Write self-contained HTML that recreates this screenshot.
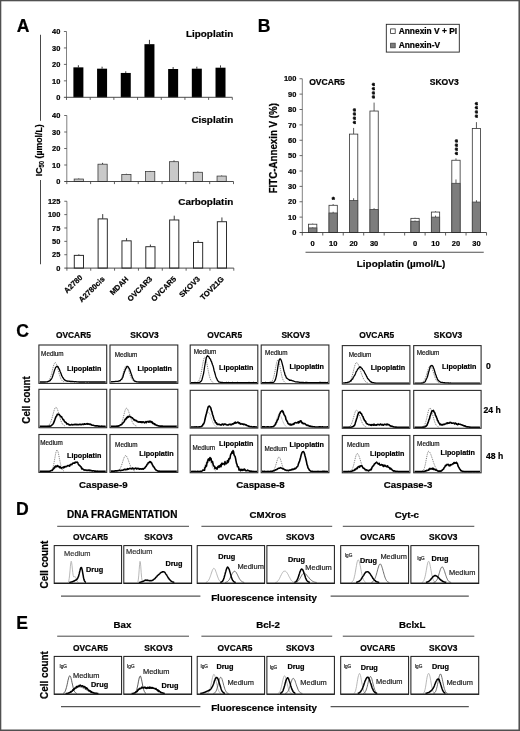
<!DOCTYPE html>
<html lang="en"><head><meta charset="utf-8"><title>Figure</title>
<style>
html,body{margin:0;padding:0;background:#fff;}
body{width:520px;height:731px;overflow:hidden;position:relative;}
svg{display:block;position:absolute;left:0;top:0;font-family:"Liberation Sans", sans-serif;}
text.b{stroke:#000;stroke-width:0.22px;}
text.r{stroke:#222;stroke-width:0.2px;}
</style></head><body>
<svg width="520" height="731" viewBox="0 0 520 731">
<defs><filter id="soft" x="0" y="0" width="520" height="731" filterUnits="userSpaceOnUse"><feGaussianBlur stdDeviation="0.32"/></filter></defs>
<rect x="0" y="0" width="520" height="731" fill="#fff"/>
<g filter="url(#soft)">
<text x="16.70" y="31.80" font-size="17.6" font-weight="bold" text-anchor="start" fill="#000" class="b">A</text>
<text x="257.70" y="32.10" font-size="17.6" font-weight="bold" text-anchor="start" fill="#000" class="b">B</text>
<text x="16.20" y="336.50" font-size="17.6" font-weight="bold" text-anchor="start" fill="#000" class="b">C</text>
<text x="15.90" y="514.70" font-size="17.6" font-weight="bold" text-anchor="start" fill="#000" class="b">D</text>
<text x="16.30" y="629.00" font-size="17.6" font-weight="bold" text-anchor="start" fill="#000" class="b">E</text>
<line x1="78.39" y1="67.36" x2="78.39" y2="65.22" stroke="#222" stroke-width="0.9"/>
<rect x="73.39" y="67.36" width="10" height="29.94" fill="#000"/>
<line x1="102.08" y1="68.68" x2="102.08" y2="66.70" stroke="#222" stroke-width="0.9"/>
<rect x="97.08" y="68.68" width="10" height="28.62" fill="#000"/>
<line x1="125.76" y1="72.95" x2="125.76" y2="71.31" stroke="#222" stroke-width="0.9"/>
<rect x="120.76" y="72.95" width="10" height="24.35" fill="#000"/>
<line x1="149.45" y1="44.17" x2="149.45" y2="39.89" stroke="#222" stroke-width="0.9"/>
<rect x="144.45" y="44.17" width="10" height="53.13" fill="#000"/>
<line x1="173.14" y1="69.01" x2="173.14" y2="67.03" stroke="#222" stroke-width="0.9"/>
<rect x="168.14" y="69.01" width="10" height="28.29" fill="#000"/>
<line x1="196.82" y1="68.68" x2="196.82" y2="66.70" stroke="#222" stroke-width="0.9"/>
<rect x="191.82" y="68.68" width="10" height="28.62" fill="#000"/>
<line x1="220.51" y1="67.69" x2="220.51" y2="65.39" stroke="#222" stroke-width="0.9"/>
<rect x="215.51" y="67.69" width="10" height="29.61" fill="#000"/>
<line x1="66.50" y1="31.50" x2="66.50" y2="97.30" stroke="#555" stroke-width="0.75"/>
<line x1="63.90" y1="97.30" x2="232.30" y2="97.30" stroke="#2a2a2a" stroke-width="0.85"/>
<text x="60.40" y="100.00" font-size="7.45" font-weight="bold" text-anchor="end" fill="#000" class="b">0</text>
<line x1="63.90" y1="80.85" x2="66.50" y2="80.85" stroke="#444" stroke-width="0.8"/>
<text x="60.40" y="83.55" font-size="7.45" font-weight="bold" text-anchor="end" fill="#000" class="b">10</text>
<line x1="63.90" y1="64.40" x2="66.50" y2="64.40" stroke="#444" stroke-width="0.8"/>
<text x="60.40" y="67.10" font-size="7.45" font-weight="bold" text-anchor="end" fill="#000" class="b">20</text>
<line x1="63.90" y1="47.95" x2="66.50" y2="47.95" stroke="#444" stroke-width="0.8"/>
<text x="60.40" y="50.65" font-size="7.45" font-weight="bold" text-anchor="end" fill="#000" class="b">30</text>
<line x1="63.90" y1="31.50" x2="66.50" y2="31.50" stroke="#444" stroke-width="0.8"/>
<text x="60.40" y="34.20" font-size="7.45" font-weight="bold" text-anchor="end" fill="#000" class="b">40</text>
<line x1="66.50" y1="97.30" x2="66.50" y2="99.90" stroke="#444" stroke-width="0.85"/>
<line x1="90.19" y1="97.30" x2="90.19" y2="99.90" stroke="#444" stroke-width="0.85"/>
<line x1="113.87" y1="97.30" x2="113.87" y2="99.90" stroke="#444" stroke-width="0.85"/>
<line x1="137.56" y1="97.30" x2="137.56" y2="99.90" stroke="#444" stroke-width="0.85"/>
<line x1="161.24" y1="97.30" x2="161.24" y2="99.90" stroke="#444" stroke-width="0.85"/>
<line x1="184.93" y1="97.30" x2="184.93" y2="99.90" stroke="#444" stroke-width="0.85"/>
<line x1="208.61" y1="97.30" x2="208.61" y2="99.90" stroke="#444" stroke-width="0.85"/>
<line x1="232.30" y1="97.30" x2="232.30" y2="99.90" stroke="#444" stroke-width="0.85"/>
<text x="233.20" y="37.40" font-size="9.9" font-weight="bold" text-anchor="end" fill="#000" class="b">Lipoplatin</text>
<line x1="78.76" y1="179.03" x2="78.76" y2="178.53" stroke="#222" stroke-width="0.9"/>
<rect x="74.16" y="179.03" width="9.2" height="2.47" fill="#c9c9c9" stroke="#333" stroke-width="0.75"/>
<line x1="102.57" y1="164.18" x2="102.57" y2="162.86" stroke="#222" stroke-width="0.9"/>
<rect x="97.97" y="164.18" width="9.2" height="17.32" fill="#c9c9c9" stroke="#333" stroke-width="0.75"/>
<line x1="126.39" y1="174.41" x2="126.39" y2="173.75" stroke="#222" stroke-width="0.9"/>
<rect x="121.79" y="174.41" width="9.2" height="7.09" fill="#c9c9c9" stroke="#333" stroke-width="0.75"/>
<line x1="150.20" y1="171.60" x2="150.20" y2="170.94" stroke="#222" stroke-width="0.9"/>
<rect x="145.60" y="171.60" width="9.2" height="9.90" fill="#c9c9c9" stroke="#333" stroke-width="0.75"/>
<line x1="174.01" y1="161.70" x2="174.01" y2="160.38" stroke="#222" stroke-width="0.9"/>
<rect x="169.41" y="161.70" width="9.2" height="19.80" fill="#c9c9c9" stroke="#333" stroke-width="0.75"/>
<line x1="197.83" y1="172.26" x2="197.83" y2="171.60" stroke="#222" stroke-width="0.9"/>
<rect x="193.23" y="172.26" width="9.2" height="9.24" fill="#c9c9c9" stroke="#333" stroke-width="0.75"/>
<line x1="221.64" y1="176.06" x2="221.64" y2="175.56" stroke="#222" stroke-width="0.9"/>
<rect x="217.04" y="176.06" width="9.2" height="5.44" fill="#c9c9c9" stroke="#333" stroke-width="0.75"/>
<line x1="66.80" y1="115.50" x2="66.80" y2="181.50" stroke="#555" stroke-width="0.75"/>
<line x1="64.20" y1="181.50" x2="233.50" y2="181.50" stroke="#2a2a2a" stroke-width="0.85"/>
<text x="60.40" y="184.20" font-size="7.45" font-weight="bold" text-anchor="end" fill="#000" class="b">0</text>
<line x1="64.20" y1="165.00" x2="66.80" y2="165.00" stroke="#444" stroke-width="0.8"/>
<text x="60.40" y="167.70" font-size="7.45" font-weight="bold" text-anchor="end" fill="#000" class="b">10</text>
<line x1="64.20" y1="148.50" x2="66.80" y2="148.50" stroke="#444" stroke-width="0.8"/>
<text x="60.40" y="151.20" font-size="7.45" font-weight="bold" text-anchor="end" fill="#000" class="b">20</text>
<line x1="64.20" y1="132.00" x2="66.80" y2="132.00" stroke="#444" stroke-width="0.8"/>
<text x="60.40" y="134.70" font-size="7.45" font-weight="bold" text-anchor="end" fill="#000" class="b">30</text>
<line x1="64.20" y1="115.50" x2="66.80" y2="115.50" stroke="#444" stroke-width="0.8"/>
<text x="60.40" y="118.20" font-size="7.45" font-weight="bold" text-anchor="end" fill="#000" class="b">40</text>
<line x1="66.80" y1="181.50" x2="66.80" y2="184.10" stroke="#444" stroke-width="0.85"/>
<line x1="90.61" y1="181.50" x2="90.61" y2="184.10" stroke="#444" stroke-width="0.85"/>
<line x1="114.43" y1="181.50" x2="114.43" y2="184.10" stroke="#444" stroke-width="0.85"/>
<line x1="138.24" y1="181.50" x2="138.24" y2="184.10" stroke="#444" stroke-width="0.85"/>
<line x1="162.06" y1="181.50" x2="162.06" y2="184.10" stroke="#444" stroke-width="0.85"/>
<line x1="185.87" y1="181.50" x2="185.87" y2="184.10" stroke="#444" stroke-width="0.85"/>
<line x1="209.69" y1="181.50" x2="209.69" y2="184.10" stroke="#444" stroke-width="0.85"/>
<line x1="233.50" y1="181.50" x2="233.50" y2="184.10" stroke="#444" stroke-width="0.85"/>
<text x="233.20" y="123.30" font-size="9.9" font-weight="bold" text-anchor="end" fill="#000" class="b">Cisplatin</text>
<line x1="78.87" y1="255.37" x2="78.87" y2="254.30" stroke="#222" stroke-width="0.9"/>
<rect x="74.27" y="255.37" width="9.2" height="12.73" fill="#fff" stroke="#222" stroke-width="0.95"/>
<line x1="102.71" y1="218.90" x2="102.71" y2="214.09" stroke="#222" stroke-width="0.9"/>
<rect x="98.11" y="218.90" width="9.2" height="49.20" fill="#fff" stroke="#222" stroke-width="0.95"/>
<line x1="126.56" y1="240.83" x2="126.56" y2="238.15" stroke="#222" stroke-width="0.9"/>
<rect x="121.96" y="240.83" width="9.2" height="27.27" fill="#fff" stroke="#222" stroke-width="0.95"/>
<line x1="150.40" y1="246.71" x2="150.40" y2="244.57" stroke="#222" stroke-width="0.9"/>
<rect x="145.80" y="246.71" width="9.2" height="21.39" fill="#fff" stroke="#222" stroke-width="0.95"/>
<line x1="174.24" y1="219.97" x2="174.24" y2="215.69" stroke="#222" stroke-width="0.9"/>
<rect x="169.64" y="219.97" width="9.2" height="48.13" fill="#fff" stroke="#222" stroke-width="0.95"/>
<line x1="198.09" y1="242.43" x2="198.09" y2="240.29" stroke="#222" stroke-width="0.9"/>
<rect x="193.49" y="242.43" width="9.2" height="25.67" fill="#fff" stroke="#222" stroke-width="0.95"/>
<line x1="221.93" y1="221.73" x2="221.93" y2="217.45" stroke="#222" stroke-width="0.9"/>
<rect x="217.33" y="221.73" width="9.2" height="46.37" fill="#fff" stroke="#222" stroke-width="0.95"/>
<line x1="66.90" y1="201.25" x2="66.90" y2="268.10" stroke="#555" stroke-width="0.75"/>
<line x1="64.30" y1="268.10" x2="233.80" y2="268.10" stroke="#2a2a2a" stroke-width="0.85"/>
<text x="60.40" y="270.80" font-size="7.45" font-weight="bold" text-anchor="end" fill="#000" class="b">0</text>
<line x1="64.30" y1="254.73" x2="66.90" y2="254.73" stroke="#444" stroke-width="0.8"/>
<text x="60.40" y="257.43" font-size="7.45" font-weight="bold" text-anchor="end" fill="#000" class="b">25</text>
<line x1="64.30" y1="241.36" x2="66.90" y2="241.36" stroke="#444" stroke-width="0.8"/>
<text x="60.40" y="244.06" font-size="7.45" font-weight="bold" text-anchor="end" fill="#000" class="b">50</text>
<line x1="64.30" y1="227.99" x2="66.90" y2="227.99" stroke="#444" stroke-width="0.8"/>
<text x="60.40" y="230.69" font-size="7.45" font-weight="bold" text-anchor="end" fill="#000" class="b">75</text>
<line x1="64.30" y1="214.62" x2="66.90" y2="214.62" stroke="#444" stroke-width="0.8"/>
<text x="60.40" y="217.32" font-size="7.45" font-weight="bold" text-anchor="end" fill="#000" class="b">100</text>
<line x1="64.30" y1="201.25" x2="66.90" y2="201.25" stroke="#444" stroke-width="0.8"/>
<text x="60.40" y="203.95" font-size="7.45" font-weight="bold" text-anchor="end" fill="#000" class="b">125</text>
<line x1="66.90" y1="268.10" x2="66.90" y2="270.70" stroke="#444" stroke-width="0.85"/>
<line x1="90.74" y1="268.10" x2="90.74" y2="270.70" stroke="#444" stroke-width="0.85"/>
<line x1="114.59" y1="268.10" x2="114.59" y2="270.70" stroke="#444" stroke-width="0.85"/>
<line x1="138.43" y1="268.10" x2="138.43" y2="270.70" stroke="#444" stroke-width="0.85"/>
<line x1="162.27" y1="268.10" x2="162.27" y2="270.70" stroke="#444" stroke-width="0.85"/>
<line x1="186.11" y1="268.10" x2="186.11" y2="270.70" stroke="#444" stroke-width="0.85"/>
<line x1="209.96" y1="268.10" x2="209.96" y2="270.70" stroke="#444" stroke-width="0.85"/>
<line x1="233.80" y1="268.10" x2="233.80" y2="270.70" stroke="#444" stroke-width="0.85"/>
<text x="233.20" y="205.00" font-size="9.9" font-weight="bold" text-anchor="end" fill="#000" class="b">Carboplatin</text>
<text transform="translate(82.92,277.90) rotate(-45)" class="b" font-size="7.6" font-weight="bold" text-anchor="end">A2780</text>
<text transform="translate(105.16,279.50) rotate(-45)" class="b" font-size="7.6" font-weight="bold" text-anchor="end">A2780cis</text>
<text transform="translate(129.00,279.50) rotate(-45)" class="b" font-size="7.6" font-weight="bold" text-anchor="end">MDAH</text>
<text transform="translate(152.84,279.50) rotate(-45)" class="b" font-size="7.6" font-weight="bold" text-anchor="end">OVCAR3</text>
<text transform="translate(176.68,279.50) rotate(-45)" class="b" font-size="7.6" font-weight="bold" text-anchor="end">OVCAR5</text>
<text transform="translate(200.52,279.50) rotate(-45)" class="b" font-size="7.6" font-weight="bold" text-anchor="end">SKOV3</text>
<text transform="translate(224.36,279.50) rotate(-45)" class="b" font-size="7.6" font-weight="bold" text-anchor="end">TOV21G</text>
<line x1="40.50" y1="34.75" x2="40.50" y2="120.80" stroke="#333" stroke-width="0.9"/>
<line x1="40.50" y1="180.00" x2="40.50" y2="264.25" stroke="#333" stroke-width="0.9"/>
<text transform="translate(42.1,150.3) rotate(-90) scale(1,1.06)" class="b" font-size="8.75" font-weight="bold" text-anchor="middle">IC<tspan font-size="6" dy="1.6">50</tspan><tspan dy="-1.6"> (µmol/L)</tspan></text>
<line x1="312.69" y1="224.20" x2="312.69" y2="223.58" stroke="#333" stroke-width="0.8"/>
<rect x="308.54" y="224.20" width="8.30" height="8.30" fill="#fff" stroke="#333" stroke-width="0.8"/>
<rect x="308.54" y="227.89" width="8.30" height="4.61" fill="#7d7d7d" stroke="#444" stroke-width="0.8"/>
<line x1="312.69" y1="227.89" x2="312.69" y2="227.27" stroke="#333" stroke-width="0.8"/>
<line x1="333.15" y1="205.29" x2="333.15" y2="204.06" stroke="#333" stroke-width="0.8"/>
<rect x="329.00" y="205.29" width="8.30" height="27.21" fill="#fff" stroke="#333" stroke-width="0.8"/>
<rect x="329.00" y="212.97" width="8.30" height="19.53" fill="#7d7d7d" stroke="#444" stroke-width="0.8"/>
<line x1="333.15" y1="212.97" x2="333.15" y2="211.74" stroke="#333" stroke-width="0.8"/>
<line x1="353.62" y1="134.10" x2="353.62" y2="127.95" stroke="#333" stroke-width="0.8"/>
<rect x="349.48" y="134.10" width="8.30" height="98.40" fill="#fff" stroke="#333" stroke-width="0.8"/>
<rect x="349.48" y="200.52" width="8.30" height="31.98" fill="#7d7d7d" stroke="#444" stroke-width="0.8"/>
<line x1="353.62" y1="200.52" x2="353.62" y2="198.21" stroke="#333" stroke-width="0.8"/>
<line x1="374.09" y1="111.04" x2="374.09" y2="102.58" stroke="#333" stroke-width="0.8"/>
<rect x="369.94" y="111.04" width="8.30" height="121.46" fill="#fff" stroke="#333" stroke-width="0.8"/>
<rect x="369.94" y="209.44" width="8.30" height="23.06" fill="#7d7d7d" stroke="#444" stroke-width="0.8"/>
<line x1="374.09" y1="209.44" x2="374.09" y2="208.21" stroke="#333" stroke-width="0.8"/>
<line x1="415.03" y1="218.35" x2="415.03" y2="217.74" stroke="#333" stroke-width="0.8"/>
<rect x="410.88" y="218.35" width="8.30" height="14.15" fill="#fff" stroke="#333" stroke-width="0.8"/>
<rect x="410.88" y="221.28" width="8.30" height="11.22" fill="#7d7d7d" stroke="#444" stroke-width="0.8"/>
<line x1="415.03" y1="221.28" x2="415.03" y2="220.51" stroke="#333" stroke-width="0.8"/>
<line x1="435.50" y1="212.05" x2="435.50" y2="211.28" stroke="#333" stroke-width="0.8"/>
<rect x="431.36" y="212.05" width="8.30" height="20.45" fill="#fff" stroke="#333" stroke-width="0.8"/>
<rect x="431.36" y="217.12" width="8.30" height="15.38" fill="#7d7d7d" stroke="#444" stroke-width="0.8"/>
<line x1="435.50" y1="217.12" x2="435.50" y2="215.59" stroke="#333" stroke-width="0.8"/>
<line x1="455.97" y1="160.24" x2="455.97" y2="158.39" stroke="#333" stroke-width="0.8"/>
<rect x="451.82" y="160.24" width="8.30" height="72.26" fill="#fff" stroke="#333" stroke-width="0.8"/>
<rect x="451.82" y="183.30" width="8.30" height="49.20" fill="#7d7d7d" stroke="#444" stroke-width="0.8"/>
<line x1="455.97" y1="183.30" x2="455.97" y2="179.46" stroke="#333" stroke-width="0.8"/>
<line x1="476.44" y1="128.56" x2="476.44" y2="122.11" stroke="#333" stroke-width="0.8"/>
<rect x="472.30" y="128.56" width="8.30" height="103.94" fill="#fff" stroke="#333" stroke-width="0.8"/>
<rect x="472.30" y="202.06" width="8.30" height="30.44" fill="#7d7d7d" stroke="#444" stroke-width="0.8"/>
<line x1="476.44" y1="202.06" x2="476.44" y2="200.21" stroke="#333" stroke-width="0.8"/>
<line x1="302.30" y1="78.75" x2="302.30" y2="232.50" stroke="#555" stroke-width="0.75"/>
<line x1="299.50" y1="232.50" x2="486.50" y2="232.50" stroke="#2a2a2a" stroke-width="0.85"/>
<text x="296.30" y="235.20" font-size="7.45" font-weight="bold" text-anchor="end" fill="#000" class="b">0</text>
<line x1="299.50" y1="217.12" x2="302.30" y2="217.12" stroke="#444" stroke-width="0.8"/>
<text x="296.30" y="219.82" font-size="7.45" font-weight="bold" text-anchor="end" fill="#000" class="b">10</text>
<line x1="299.50" y1="201.75" x2="302.30" y2="201.75" stroke="#444" stroke-width="0.8"/>
<text x="296.30" y="204.45" font-size="7.45" font-weight="bold" text-anchor="end" fill="#000" class="b">20</text>
<line x1="299.50" y1="186.38" x2="302.30" y2="186.38" stroke="#444" stroke-width="0.8"/>
<text x="296.30" y="189.07" font-size="7.45" font-weight="bold" text-anchor="end" fill="#000" class="b">30</text>
<line x1="299.50" y1="171.00" x2="302.30" y2="171.00" stroke="#444" stroke-width="0.8"/>
<text x="296.30" y="173.70" font-size="7.45" font-weight="bold" text-anchor="end" fill="#000" class="b">40</text>
<line x1="299.50" y1="155.62" x2="302.30" y2="155.62" stroke="#444" stroke-width="0.8"/>
<text x="296.30" y="158.32" font-size="7.45" font-weight="bold" text-anchor="end" fill="#000" class="b">50</text>
<line x1="299.50" y1="140.25" x2="302.30" y2="140.25" stroke="#444" stroke-width="0.8"/>
<text x="296.30" y="142.95" font-size="7.45" font-weight="bold" text-anchor="end" fill="#000" class="b">60</text>
<line x1="299.50" y1="124.88" x2="302.30" y2="124.88" stroke="#444" stroke-width="0.8"/>
<text x="296.30" y="127.58" font-size="7.45" font-weight="bold" text-anchor="end" fill="#000" class="b">70</text>
<line x1="299.50" y1="109.50" x2="302.30" y2="109.50" stroke="#444" stroke-width="0.8"/>
<text x="296.30" y="112.20" font-size="7.45" font-weight="bold" text-anchor="end" fill="#000" class="b">80</text>
<line x1="299.50" y1="94.12" x2="302.30" y2="94.12" stroke="#444" stroke-width="0.8"/>
<text x="296.30" y="96.83" font-size="7.45" font-weight="bold" text-anchor="end" fill="#000" class="b">90</text>
<line x1="299.50" y1="78.75" x2="302.30" y2="78.75" stroke="#444" stroke-width="0.8"/>
<text x="296.30" y="81.45" font-size="7.45" font-weight="bold" text-anchor="end" fill="#000" class="b">100</text>
<line x1="302.30" y1="232.50" x2="302.30" y2="235.50" stroke="#444" stroke-width="0.85"/>
<line x1="322.77" y1="232.50" x2="322.77" y2="235.50" stroke="#444" stroke-width="0.85"/>
<line x1="343.24" y1="232.50" x2="343.24" y2="235.50" stroke="#444" stroke-width="0.85"/>
<line x1="363.71" y1="232.50" x2="363.71" y2="235.50" stroke="#444" stroke-width="0.85"/>
<line x1="384.18" y1="232.50" x2="384.18" y2="235.50" stroke="#444" stroke-width="0.85"/>
<line x1="404.65" y1="232.50" x2="404.65" y2="235.50" stroke="#444" stroke-width="0.85"/>
<line x1="425.12" y1="232.50" x2="425.12" y2="235.50" stroke="#444" stroke-width="0.85"/>
<line x1="445.59" y1="232.50" x2="445.59" y2="235.50" stroke="#444" stroke-width="0.85"/>
<line x1="466.06" y1="232.50" x2="466.06" y2="235.50" stroke="#444" stroke-width="0.85"/>
<line x1="486.53" y1="232.50" x2="486.53" y2="235.50" stroke="#444" stroke-width="0.85"/>
<text x="312.69" y="246.40" font-size="7.5" font-weight="bold" text-anchor="middle" fill="#000" class="b">0</text>
<text x="333.15" y="246.40" font-size="7.5" font-weight="bold" text-anchor="middle" fill="#000" class="b">10</text>
<text x="353.62" y="246.40" font-size="7.5" font-weight="bold" text-anchor="middle" fill="#000" class="b">20</text>
<text x="374.09" y="246.40" font-size="7.5" font-weight="bold" text-anchor="middle" fill="#000" class="b">30</text>
<text x="415.03" y="245.50" font-size="7.5" font-weight="bold" text-anchor="middle" fill="#000" class="b">0</text>
<text x="435.50" y="246.40" font-size="7.5" font-weight="bold" text-anchor="middle" fill="#000" class="b">10</text>
<text x="455.97" y="246.40" font-size="7.5" font-weight="bold" text-anchor="middle" fill="#000" class="b">20</text>
<text x="476.44" y="246.40" font-size="7.5" font-weight="bold" text-anchor="middle" fill="#000" class="b">30</text>
<line x1="305.50" y1="252.20" x2="483.75" y2="252.20" stroke="#505050" stroke-width="1.1"/>
<text x="401.10" y="266.60" font-size="9.9" font-weight="bold" text-anchor="middle" fill="#000" class="b">Lipoplatin (µmol/L)</text>
<text transform="translate(276.8,148.2) rotate(-90) scale(1,1.06)" class="b" font-size="9.75" font-weight="bold" text-anchor="middle">FITC-Annexin V (%)</text>
<text x="309.20" y="84.60" font-size="8.55" font-weight="bold" text-anchor="start" fill="#000" class="b">OVCAR5</text>
<text x="429.70" y="84.60" font-size="8.55" font-weight="bold" text-anchor="start" fill="#000" class="b">SKOV3</text>
<text x="333.30" y="201.90" font-size="8" font-weight="bold" text-anchor="middle" fill="#000" class="b" stroke-width="0.5" style="stroke-width:0.5px">*</text>
<text transform="translate(358.20,115.60) rotate(-90)" font-size="8" font-weight="bold" letter-spacing="1.05" text-anchor="middle" stroke="#000" stroke-width="0.5">****</text>
<text transform="translate(377.30,90.25) rotate(-90)" font-size="8" font-weight="bold" letter-spacing="1.05" text-anchor="middle" stroke="#000" stroke-width="0.5">****</text>
<text transform="translate(459.50,146.70) rotate(-90)" font-size="8" font-weight="bold" letter-spacing="1.05" text-anchor="middle" stroke="#000" stroke-width="0.5">****</text>
<text transform="translate(480.20,109.30) rotate(-90)" font-size="8" font-weight="bold" letter-spacing="1.05" text-anchor="middle" stroke="#000" stroke-width="0.5">****</text>
<rect x="386.30" y="24.30" width="73.00" height="27.80" fill="#fff" stroke="#222" stroke-width="0.9"/>
<rect x="390.60" y="28.90" width="4.60" height="4.60" fill="#fff" stroke="#333" stroke-width="0.8"/>
<rect x="390.60" y="43.20" width="4.60" height="4.60" fill="#7d7d7d" stroke="#444" stroke-width="0.8"/>
<text x="398.70" y="33.80" font-size="8.4" font-weight="bold" text-anchor="start" fill="#000" class="b">Annexin V + PI</text>
<text x="398.70" y="48.00" font-size="8.4" font-weight="bold" text-anchor="start" fill="#000" class="b">Annexin-V</text>
<text x="73.40" y="337.50" font-size="8.4" font-weight="bold" text-anchor="middle" fill="#000" class="b">OVCAR5</text>
<text x="144.50" y="337.50" font-size="8.4" font-weight="bold" text-anchor="middle" fill="#000" class="b">SKOV3</text>
<text x="224.60" y="337.50" font-size="8.4" font-weight="bold" text-anchor="middle" fill="#000" class="b">OVCAR5</text>
<text x="295.65" y="337.50" font-size="8.4" font-weight="bold" text-anchor="middle" fill="#000" class="b">SKOV3</text>
<text x="376.70" y="337.50" font-size="8.4" font-weight="bold" text-anchor="middle" fill="#000" class="b">OVCAR5</text>
<text x="448.00" y="337.50" font-size="8.4" font-weight="bold" text-anchor="middle" fill="#000" class="b">SKOV3</text>
<g>
<polyline points="47.4,381.6 47.9,381.4 48.4,381.0 48.9,380.5 49.4,379.7 49.9,378.8 50.4,377.5 50.9,376.0 51.4,374.3 51.9,372.3 52.4,370.2 52.9,368.2 53.4,366.2 53.9,364.6 54.4,363.4 54.9,362.7 55.4,362.6 55.9,363.1 56.4,364.1 56.9,365.5 57.4,367.2 57.9,369.1 58.4,371.0 58.9,372.9 59.4,374.7 59.9,376.3 60.4,377.7 60.9,378.8 61.4,379.7 61.9,380.4 62.4,380.9 62.9,381.3 63.4,381.5 63.9,381.7" fill="none" stroke="#444" stroke-width="0.7" stroke-linejoin="round" stroke-dasharray="1 0.9"/>
<polyline points="39.7,382.0 40.2,382.0 40.7,381.9 41.2,382.0 41.7,382.0 42.2,382.0 42.7,382.0 43.2,381.9 43.7,382.0 44.2,381.9 44.7,382.0 45.2,382.0 45.7,381.9 46.2,381.8 46.7,381.9 47.2,381.8 47.7,381.6 48.2,381.4 48.7,381.4 49.2,381.2 49.7,380.6 50.2,380.7 50.7,379.6 51.2,379.3 51.7,378.5 52.2,377.4 52.7,376.0 53.2,374.1 53.7,373.2 54.2,371.2 54.7,369.7 55.2,368.6 55.7,367.3 56.2,366.9 56.7,366.5 57.2,366.4 57.7,366.3 58.2,367.1 58.7,368.1 59.2,369.0 59.7,370.3 60.2,371.8 60.7,372.7 61.2,374.0 61.7,375.7 62.2,376.5 62.7,377.5 63.2,378.0 63.7,378.8 64.2,379.7 64.7,379.6 65.2,380.6 65.7,380.6 66.2,380.6 66.7,381.1 67.2,381.0 67.7,381.3 68.2,381.1 68.7,381.2 69.2,381.3 69.7,381.2 70.2,381.5 70.7,381.4 71.2,381.5 71.7,381.5 72.2,381.6 72.7,381.5 73.2,381.5 73.7,381.7 74.2,381.6 74.7,381.8 75.2,381.7 75.7,381.7 76.2,381.7 76.7,381.8 77.2,381.9 77.7,381.9 78.2,381.8 78.7,382.0 79.2,381.9 79.7,382.0 80.2,382.0 80.7,382.0 81.2,381.9 81.7,382.0 82.2,382.0 82.7,382.0 83.2,381.9 83.7,382.0 84.2,382.0 84.7,382.0 85.2,381.9 85.7,381.9 86.2,381.9 86.7,382.0 87.2,382.0 87.7,382.0 88.2,381.9 88.7,381.9 89.2,382.0 89.7,382.0 90.2,382.0 90.7,382.0 91.2,382.0 91.7,382.0 92.2,382.0 92.7,382.0 93.2,382.0 93.7,382.0 94.2,382.0 94.7,381.9 95.2,382.0 95.7,382.0 96.2,382.0 96.7,382.0 97.2,382.0 97.7,381.9 98.2,382.0 98.7,381.9 99.2,382.0 99.7,382.0 100.2,382.0 100.7,382.0 101.2,382.0 101.7,382.0 102.2,382.0 102.7,382.0 103.2,382.0 103.7,382.0 104.2,382.0 104.7,382.0 105.2,382.0 105.7,382.0" fill="none" stroke="#000" stroke-width="1.3" stroke-linejoin="round"/>
<rect x="38.90" y="345.00" width="67.80" height="38.40" fill="none" stroke="#2b2b2b" stroke-width="1.1"/>
<text x="41.10" y="355.70" font-size="6.35" font-weight="normal" text-anchor="start" fill="#111" class="r">Medium</text>
<text x="67.00" y="371.40" font-size="7.2" font-weight="bold" text-anchor="start" fill="#000" class="b">Lipoplatin</text>
</g>
<g>
<polyline points="118.5,381.7 119.0,381.5 119.5,381.2 120.0,380.7 120.5,380.1 121.0,379.3 121.5,378.3 122.0,377.0 122.5,375.5 123.0,373.9 123.5,372.2 124.0,370.4 124.5,368.8 125.0,367.5 125.5,366.4 126.0,365.9 126.5,365.8 127.0,366.2 127.5,367.0 128.0,368.2 128.5,369.6 129.0,371.2 129.5,372.8 130.0,374.4 130.5,375.9 131.0,377.3 131.5,378.4 132.0,379.3 132.5,380.1 133.0,380.7 133.5,381.1 134.0,381.4 134.5,381.6" fill="none" stroke="#444" stroke-width="0.7" stroke-linejoin="round" stroke-dasharray="1 0.9"/>
<polyline points="110.8,381.9 111.3,381.9 111.8,381.7 112.3,381.7 112.8,381.8 113.3,381.7 113.8,381.6 114.3,381.6 114.8,381.6 115.3,381.4 115.8,381.3 116.3,381.4 116.8,381.3 117.3,381.4 117.8,381.3 118.3,381.2 118.8,381.1 119.3,380.7 119.8,380.9 120.3,380.7 120.8,379.8 121.3,379.5 121.8,379.2 122.3,377.9 122.8,377.3 123.3,375.5 123.8,373.7 124.3,372.2 124.8,370.9 125.3,369.8 125.8,368.5 126.3,367.8 126.8,366.6 127.3,366.5 127.8,366.4 128.3,367.2 128.8,368.0 129.3,368.6 129.8,369.7 130.3,371.2 130.8,372.7 131.3,374.1 131.8,375.5 132.3,377.3 132.8,378.2 133.3,379.3 133.8,380.3 134.3,380.8 134.8,381.1 135.3,381.4 135.8,381.5 136.3,381.6 136.8,381.8 137.3,381.8 137.8,381.9 138.3,381.9 138.8,382.0 139.3,382.0 139.8,382.0 140.3,382.0 140.8,382.0 141.3,382.0 141.8,381.9 142.3,382.0 142.8,382.0 143.3,382.0 143.8,382.0 144.3,382.0 144.8,382.0 145.3,381.9 145.8,382.0 146.3,382.0 146.8,382.0 147.3,382.0 147.8,382.0 148.3,382.0 148.8,382.0 149.3,381.9 149.8,382.0 150.3,382.0 150.8,381.9 151.3,382.0 151.8,382.0 152.3,382.0 152.8,382.0 153.3,381.9 153.8,382.0 154.3,382.0 154.8,382.0 155.3,381.9 155.8,382.0 156.3,382.0 156.8,382.0 157.3,382.0 157.8,382.0 158.3,381.9 158.8,382.0 159.3,382.0 159.8,381.9 160.3,382.0 160.8,381.9 161.3,382.0 161.8,382.0 162.3,382.0 162.8,382.0 163.3,382.0 163.8,382.0 164.3,382.0 164.8,382.0 165.3,382.0 165.8,381.9 166.3,382.0 166.8,382.0 167.3,382.0 167.8,381.9 168.3,382.0 168.8,381.9 169.3,382.0 169.8,382.0 170.3,382.0 170.8,382.0 171.3,382.0 171.8,382.0 172.3,382.0 172.8,382.0 173.3,382.0 173.8,382.0 174.3,382.0 174.8,382.0 175.3,382.0 175.8,382.0 176.3,382.0 176.8,382.0" fill="none" stroke="#000" stroke-width="1.3" stroke-linejoin="round"/>
<rect x="110.00" y="345.00" width="67.80" height="38.40" fill="none" stroke="#2b2b2b" stroke-width="1.1"/>
<text x="114.80" y="356.70" font-size="6.35" font-weight="normal" text-anchor="start" fill="#111" class="r">Medium</text>
<text x="137.60" y="370.70" font-size="7.2" font-weight="bold" text-anchor="start" fill="#000" class="b">Lipoplatin</text>
</g>
<g>
<polyline points="197.2,382.2 197.7,382.0 198.2,381.6 198.7,381.0 199.2,380.1 199.7,378.9 200.2,377.3 200.7,375.3 201.2,372.9 201.7,370.1 202.2,367.2 202.7,364.3 203.2,361.6 203.7,359.4 204.2,357.9 204.7,357.2 205.2,357.5 205.7,358.5 206.2,360.2 206.7,362.4 207.2,365.0 207.7,367.7 208.2,370.4 208.7,373.0 209.2,375.2 209.7,377.1 210.2,378.6 210.7,379.8 211.2,380.7 211.7,381.4 212.2,381.8 212.7,382.1 213.2,382.3" fill="none" stroke="#444" stroke-width="0.7" stroke-linejoin="round" stroke-dasharray="1 0.9"/>
<polyline points="191.0,382.6 191.5,382.6 192.0,382.6 192.5,382.6 193.0,382.6 193.5,382.6 194.0,382.6 194.5,382.6 195.0,382.5 195.5,382.6 196.0,382.6 196.5,382.6 197.0,382.6 197.5,382.6 198.0,382.6 198.5,382.6 199.0,382.5 199.5,382.3 200.0,382.2 200.5,381.8 201.0,381.2 201.5,380.9 202.0,379.5 202.5,377.6 203.0,375.7 203.5,373.8 204.0,370.9 204.5,367.5 205.0,364.7 205.5,361.6 206.0,359.4 206.5,357.2 207.0,356.2 207.5,355.7 208.0,356.4 208.5,356.4 209.0,357.0 209.5,358.3 210.0,358.5 210.5,359.3 211.0,361.0 211.5,361.5 212.0,363.3 212.5,364.7 213.0,365.8 213.5,367.7 214.0,370.2 214.5,371.8 215.0,373.5 215.5,375.4 216.0,377.0 216.5,378.3 217.0,379.0 217.5,380.6 218.0,380.8 218.5,381.4 219.0,382.0 219.5,382.1 220.0,382.2 220.5,382.4 221.0,382.5 221.5,382.5 222.0,382.5 222.5,382.5 223.0,382.6 223.5,382.6 224.0,382.6 224.5,382.6 225.0,382.6 225.5,382.6 226.0,382.6 226.5,382.5 227.0,382.6 227.5,382.6 228.0,382.6 228.5,382.5 229.0,382.6 229.5,382.6 230.0,382.6 230.5,382.6 231.0,382.6 231.5,382.6 232.0,382.6 232.5,382.5 233.0,382.6 233.5,382.6 234.0,382.6 234.5,382.6 235.0,382.6 235.5,382.6 236.0,382.6 236.5,382.6 237.0,382.6 237.5,382.5 238.0,382.6 238.5,382.6 239.0,382.6 239.5,382.6 240.0,382.6 240.5,382.6 241.0,382.6 241.5,382.6 242.0,382.6 242.5,382.6 243.0,382.6 243.5,382.6 244.0,382.6 244.5,382.6 245.0,382.6 245.5,382.6 246.0,382.6 246.5,382.6 247.0,382.6 247.5,382.6 248.0,382.6 248.5,382.6 249.0,382.5 249.5,382.6 250.0,382.6 250.5,382.6 251.0,382.6 251.5,382.6 252.0,382.6 252.5,382.6 253.0,382.6 253.5,382.5 254.0,382.6 254.5,382.6 255.0,382.6 255.5,382.6 256.0,382.6 256.5,382.6 257.0,382.6" fill="none" stroke="#000" stroke-width="1.3" stroke-linejoin="round"/>
<rect x="190.20" y="345.00" width="67.60" height="38.70" fill="none" stroke="#2b2b2b" stroke-width="1.1"/>
<text x="193.80" y="354.30" font-size="6.35" font-weight="normal" text-anchor="start" fill="#111" class="r">Medium</text>
<text x="219.00" y="370.00" font-size="7.2" font-weight="bold" text-anchor="start" fill="#000" class="b">Lipoplatin</text>
</g>
<g>
<polyline points="270.7,382.2 271.2,382.0 271.7,381.6 272.2,380.9 272.7,380.0 273.2,378.7 273.7,377.1 274.2,375.0 274.7,372.6 275.2,370.0 275.7,367.3 276.2,364.7 276.7,362.5 277.2,360.9 277.7,360.1 278.2,360.2 278.7,361.1 279.2,362.9 279.7,365.2 280.2,367.8 280.7,370.5 281.2,373.1 281.7,375.5 282.2,377.5 282.7,379.0 283.2,380.2 283.7,381.1 284.2,381.7 284.7,382.0 285.2,382.3" fill="none" stroke="#444" stroke-width="0.7" stroke-linejoin="round" stroke-dasharray="1 0.9"/>
<polyline points="262.0,382.6 262.5,382.6 263.0,382.6 263.5,382.6 264.0,382.6 264.5,382.6 265.0,382.6 265.5,382.5 266.0,382.6 266.5,382.6 267.0,382.6 267.5,382.6 268.0,382.6 268.5,382.6 269.0,382.6 269.5,382.6 270.0,382.5 270.5,382.5 271.0,382.6 271.5,382.6 272.0,382.5 272.5,382.5 273.0,382.4 273.5,382.3 274.0,381.9 274.5,381.3 275.0,380.4 275.5,379.4 276.0,377.3 276.5,375.5 277.0,372.4 277.5,369.4 278.0,365.9 278.5,363.2 279.0,360.9 279.5,359.2 280.0,358.9 280.5,359.0 281.0,359.9 281.5,361.1 282.0,362.9 282.5,364.8 283.0,366.7 283.5,369.2 284.0,371.2 284.5,372.4 285.0,374.8 285.5,375.6 286.0,376.8 286.5,378.2 287.0,378.1 287.5,378.6 288.0,379.2 288.5,379.4 289.0,379.6 289.5,380.4 290.0,380.2 290.5,380.4 291.0,380.2 291.5,380.4 292.0,380.6 292.5,380.9 293.0,380.8 293.5,381.1 294.0,381.2 294.5,381.5 295.0,381.7 295.5,381.8 296.0,381.8 296.5,382.0 297.0,381.8 297.5,382.0 298.0,382.0 298.5,382.1 299.0,382.1 299.5,382.3 300.0,382.4 300.5,382.3 301.0,382.3 301.5,382.4 302.0,382.4 302.5,382.4 303.0,382.6 303.5,382.5 304.0,382.6 304.5,382.6 305.0,382.6 305.5,382.5 306.0,382.6 306.5,382.5 307.0,382.5 307.5,382.6 308.0,382.6 308.5,382.6 309.0,382.6 309.5,382.6 310.0,382.6 310.5,382.6 311.0,382.6 311.5,382.6 312.0,382.6 312.5,382.6 313.0,382.6 313.5,382.6 314.0,382.6 314.5,382.6 315.0,382.6 315.5,382.6 316.0,382.6 316.5,382.6 317.0,382.6 317.5,382.6 318.0,382.6 318.5,382.6 319.0,382.6 319.5,382.5 320.0,382.6 320.5,382.5 321.0,382.5 321.5,382.6 322.0,382.6 322.5,382.6 323.0,382.5 323.5,382.6 324.0,382.6 324.5,382.6 325.0,382.5 325.5,382.6 326.0,382.6 326.5,382.6 327.0,382.6 327.5,382.5 328.0,382.6" fill="none" stroke="#000" stroke-width="1.3" stroke-linejoin="round"/>
<rect x="261.20" y="345.00" width="67.70" height="38.70" fill="none" stroke="#2b2b2b" stroke-width="1.1"/>
<text x="265.10" y="354.70" font-size="6.35" font-weight="normal" text-anchor="start" fill="#111" class="r">Medium</text>
<text x="289.60" y="369.00" font-size="7.2" font-weight="bold" text-anchor="start" fill="#000" class="b">Lipoplatin</text>
</g>
<g>
<polyline points="347.8,382.9 348.3,382.7 348.8,382.4 349.3,382.0 349.8,381.5 350.3,380.8 350.8,379.8 351.3,378.6 351.8,377.2 352.3,375.5 352.8,373.6 353.3,371.5 353.8,369.5 354.3,367.5 354.8,365.7 355.3,364.2 355.8,363.2 356.3,362.6 356.8,362.7 357.3,363.0 357.8,363.7 358.3,364.6 358.8,365.7 359.3,367.1 359.8,368.5 360.3,370.1 360.8,371.6 361.3,373.2 361.8,374.6 362.3,376.0 362.8,377.2 363.3,378.3 363.8,379.3 364.3,380.1 364.8,380.8 365.3,381.4 365.8,381.8 366.3,382.2 366.8,382.5 367.3,382.7 367.8,382.8 368.3,382.9" fill="none" stroke="#444" stroke-width="0.7" stroke-linejoin="round" stroke-dasharray="1 0.9"/>
<polyline points="343.1,382.9 343.6,382.9 344.1,382.8 344.6,382.8 345.1,382.9 345.6,382.6 346.1,382.6 346.6,382.7 347.1,382.6 347.6,382.3 348.1,382.2 348.6,382.1 349.1,382.0 349.6,381.7 350.1,381.4 350.6,380.7 351.1,381.0 351.6,379.8 352.1,379.2 352.6,379.2 353.1,377.7 353.6,377.1 354.1,376.0 354.6,375.6 355.1,374.5 355.6,373.4 356.1,371.8 356.6,371.1 357.1,370.3 357.6,369.3 358.1,368.7 358.6,368.2 359.1,367.8 359.6,366.9 360.1,367.3 360.6,366.9 361.1,367.8 361.6,368.2 362.1,368.6 362.6,369.6 363.1,370.2 363.6,370.5 364.1,371.5 364.6,372.5 365.1,373.7 365.6,374.4 366.1,375.3 366.6,376.5 367.1,377.2 367.6,378.6 368.1,378.7 368.6,379.6 369.1,380.0 369.6,380.6 370.1,381.3 370.6,381.8 371.1,381.6 371.6,382.3 372.1,382.4 372.6,382.6 373.1,382.7 373.6,382.7 374.1,382.8 374.6,383.0 375.1,383.0 375.6,383.1 376.1,383.1 376.6,383.2 377.1,383.2 377.6,383.2 378.1,383.2 378.6,383.1 379.1,383.2 379.6,383.2 380.1,383.1 380.6,383.1 381.1,383.2 381.6,383.2 382.1,383.2 382.6,383.2 383.1,383.2 383.6,383.2 384.1,383.2 384.6,383.2 385.1,383.2 385.6,383.1 386.1,383.2 386.6,383.2 387.1,383.2 387.6,383.2 388.1,383.2 388.6,383.2 389.1,383.2 389.6,383.2 390.1,383.1 390.6,383.2 391.1,383.2 391.6,383.2 392.1,383.2 392.6,383.2 393.1,383.2 393.6,383.2 394.1,383.2 394.6,383.2 395.1,383.1 395.6,383.2 396.1,383.1 396.6,383.2 397.1,383.2 397.6,383.2 398.1,383.1 398.6,383.2 399.1,383.2 399.6,383.2 400.1,383.2 400.6,383.1 401.1,383.2 401.6,383.2 402.1,383.1 402.6,383.2 403.1,383.2 403.6,383.2 404.1,383.2 404.6,383.2 405.1,383.1 405.6,383.2 406.1,383.2 406.6,383.2 407.1,383.2 407.6,383.2 408.1,383.2 408.6,383.2 409.1,383.2" fill="none" stroke="#000" stroke-width="1.3" stroke-linejoin="round"/>
<rect x="342.30" y="345.60" width="67.60" height="38.50" fill="none" stroke="#2b2b2b" stroke-width="1.1"/>
<text x="348.80" y="357.20" font-size="6.35" font-weight="normal" text-anchor="start" fill="#111" class="r">Medium</text>
<text x="370.70" y="370.40" font-size="7.2" font-weight="bold" text-anchor="start" fill="#000" class="b">Lipoplatin</text>
</g>
<g>
<polyline points="421.2,382.9 421.7,382.7 422.2,382.5 422.7,382.2 423.2,381.7 423.7,381.1 424.2,380.4 424.7,379.5 425.2,378.4 425.7,377.1 426.2,375.6 426.7,374.1 427.2,372.4 427.7,370.8 428.2,369.3 428.7,368.0 429.2,367.0 429.7,366.3 430.2,366.0 430.7,366.1 431.2,366.7 431.7,367.6 432.2,368.8 432.7,370.2 433.2,371.8 433.7,373.4 434.2,375.0 434.7,376.5 435.2,377.9 435.7,379.1 436.2,380.1 436.7,380.9 437.2,381.5 437.7,382.0 438.2,382.4 438.7,382.7 439.2,382.8" fill="none" stroke="#444" stroke-width="0.7" stroke-linejoin="round" stroke-dasharray="1 0.9"/>
<polyline points="414.5,383.1 415.0,383.2 415.5,383.2 416.0,383.2 416.5,383.2 417.0,383.2 417.5,383.2 418.0,383.2 418.5,383.2 419.0,383.2 419.5,383.2 420.0,383.2 420.5,383.2 421.0,383.1 421.5,383.2 422.0,383.1 422.5,383.0 423.0,382.8 423.5,382.7 424.0,382.3 424.5,382.1 425.0,381.8 425.5,381.1 426.0,379.6 426.5,378.8 427.0,377.8 427.5,376.6 428.0,374.5 428.5,372.5 429.0,371.0 429.5,369.4 430.0,367.5 430.5,366.0 431.0,365.8 431.5,365.6 432.0,365.4 432.5,365.8 433.0,366.5 433.5,368.1 434.0,369.0 434.5,370.6 435.0,372.5 435.5,374.3 436.0,375.2 436.5,377.1 437.0,377.9 437.5,379.4 438.0,380.3 438.5,380.4 439.0,381.3 439.5,381.3 440.0,381.9 440.5,382.2 441.0,382.4 441.5,382.4 442.0,382.4 442.5,382.4 443.0,382.7 443.5,382.7 444.0,382.8 444.5,382.6 445.0,382.9 445.5,382.9 446.0,383.0 446.5,382.9 447.0,382.9 447.5,382.9 448.0,383.0 448.5,382.9 449.0,383.0 449.5,383.1 450.0,383.1 450.5,383.0 451.0,383.1 451.5,383.2 452.0,383.1 452.5,383.2 453.0,383.2 453.5,383.2 454.0,383.2 454.5,383.2 455.0,383.2 455.5,383.2 456.0,383.1 456.5,383.2 457.0,383.1 457.5,383.2 458.0,383.2 458.5,383.2 459.0,383.2 459.5,383.2 460.0,383.2 460.5,383.2 461.0,383.2 461.5,383.1 462.0,383.2 462.5,383.2 463.0,383.1 463.5,383.2 464.0,383.2 464.5,383.2 465.0,383.2 465.5,383.2 466.0,383.2 466.5,383.2 467.0,383.1 467.5,383.2 468.0,383.2 468.5,383.1 469.0,383.2 469.5,383.2 470.0,383.1 470.5,383.2 471.0,383.2 471.5,383.2 472.0,383.2 472.5,383.2 473.0,383.2 473.5,383.2 474.0,383.1 474.5,383.2 475.0,383.1 475.5,383.2 476.0,383.2 476.5,383.2 477.0,383.1 477.5,383.1 478.0,383.2 478.5,383.2 479.0,383.2 479.5,383.2 480.0,383.1" fill="none" stroke="#000" stroke-width="1.3" stroke-linejoin="round"/>
<rect x="413.70" y="345.60" width="67.40" height="38.50" fill="none" stroke="#2b2b2b" stroke-width="1.1"/>
<text x="416.80" y="355.40" font-size="6.35" font-weight="normal" text-anchor="start" fill="#111" class="r">Medium</text>
<text x="442.00" y="369.00" font-size="7.2" font-weight="bold" text-anchor="start" fill="#000" class="b">Lipoplatin</text>
</g>
<g>
<polyline points="47.4,426.0 47.9,425.8 48.4,425.5 48.9,425.1 49.4,424.5 49.9,423.7 50.4,422.8 50.9,421.6 51.4,420.1 51.9,418.5 52.4,416.7 52.9,414.8 53.4,412.9 53.9,411.1 54.4,409.5 54.9,408.3 55.4,407.6 55.9,407.3 56.4,407.5 56.9,408.2 57.4,409.3 57.9,410.7 58.4,412.3 58.9,414.1 59.4,415.9 59.9,417.6 60.4,419.2 60.9,420.7 61.4,422.0 61.9,423.0 62.4,423.9 62.9,424.6 63.4,425.1 63.9,425.5 64.4,425.7 64.9,425.9" fill="none" stroke="#444" stroke-width="0.7" stroke-linejoin="round" stroke-dasharray="1 0.9"/>
<polyline points="39.7,426.3 40.2,426.3 40.7,426.3 41.2,426.3 41.7,426.3 42.2,426.3 42.7,426.3 43.2,426.3 43.7,426.3 44.2,426.3 44.7,426.3 45.2,426.3 45.7,426.3 46.2,426.3 46.7,426.3 47.2,426.3 47.7,426.3 48.2,426.3 48.7,426.2 49.2,426.1 49.7,426.0 50.2,426.1 50.7,426.0 51.2,425.8 51.7,425.3 52.2,424.7 52.7,424.3 53.2,423.8 53.7,422.7 54.2,421.4 54.7,420.1 55.2,418.7 55.7,417.4 56.2,416.3 56.7,415.9 57.2,414.4 57.7,414.5 58.2,414.2 58.7,414.5 59.2,414.3 59.7,415.2 60.2,415.7 60.7,416.2 61.2,417.0 61.7,416.9 62.2,418.0 62.7,419.0 63.2,419.7 63.7,419.8 64.2,420.9 64.7,421.9 65.2,421.9 65.7,422.5 66.2,422.6 66.7,423.9 67.2,423.9 67.7,423.8 68.2,424.1 68.7,424.2 69.2,425.0 69.7,424.9 70.2,425.0 70.7,425.0 71.2,424.5 71.7,424.8 72.2,424.5 72.7,424.9 73.2,424.5 73.7,424.7 74.2,424.8 74.7,424.4 75.2,424.3 75.7,424.8 76.2,424.5 76.7,424.4 77.2,424.7 77.7,424.5 78.2,424.7 78.7,424.6 79.2,424.6 79.7,424.3 80.2,424.2 80.7,424.6 81.2,424.7 81.7,424.4 82.2,424.1 82.7,424.5 83.2,424.3 83.7,424.4 84.2,423.8 84.7,423.9 85.2,424.3 85.7,424.2 86.2,423.9 86.7,423.7 87.2,423.6 87.7,424.2 88.2,424.2 88.7,423.8 89.2,424.1 89.7,424.4 90.2,424.5 90.7,424.2 91.2,424.9 91.7,424.9 92.2,425.2 92.7,425.3 93.2,425.2 93.7,425.3 94.2,425.7 94.7,425.8 95.2,425.7 95.7,425.9 96.2,426.0 96.7,425.8 97.2,426.0 97.7,425.9 98.2,426.1 98.7,426.0 99.2,426.1 99.7,426.2 100.2,426.2 100.7,426.2 101.2,426.2 101.7,426.1 102.2,426.3 102.7,426.2 103.2,426.3 103.7,426.2 104.2,426.3 104.7,426.3 105.2,426.3 105.7,426.2" fill="none" stroke="#000" stroke-width="1.6" stroke-linejoin="round"/>
<rect x="38.90" y="389.30" width="67.80" height="38.40" fill="none" stroke="#2b2b2b" stroke-width="1.1"/>
</g>
<g>
<polyline points="119.0,426.0 119.5,425.8 120.0,425.4 120.5,424.9 121.0,424.2 121.5,423.2 122.0,422.0 122.5,420.4 123.0,418.6 123.5,416.6 124.0,414.5 124.5,412.4 125.0,410.6 125.5,409.3 126.0,408.4 126.5,408.2 127.0,408.5 127.5,409.1 128.0,410.0 128.5,411.2 129.0,412.6 129.5,414.1 130.0,415.6 130.5,417.2 131.0,418.7 131.5,420.0 132.0,421.3 132.5,422.3 133.0,423.2 133.5,424.0 134.0,424.6 134.5,425.1 135.0,425.4 135.5,425.7 136.0,425.9 136.5,426.0" fill="none" stroke="#444" stroke-width="0.7" stroke-linejoin="round" stroke-dasharray="1 0.9"/>
<polyline points="110.8,426.3 111.3,426.3 111.8,426.2 112.3,426.2 112.8,426.3 113.3,426.3 113.8,426.2 114.3,426.2 114.8,426.3 115.3,426.3 115.8,426.2 116.3,426.2 116.8,426.1 117.3,426.1 117.8,426.0 118.3,426.1 118.8,425.7 119.3,425.8 119.8,425.5 120.3,425.0 120.8,424.7 121.3,424.8 121.8,424.4 122.3,423.7 122.8,423.0 123.3,422.6 123.8,422.2 124.3,421.4 124.8,420.1 125.3,419.2 125.8,419.5 126.3,418.2 126.8,417.4 127.3,417.8 127.8,416.5 128.3,417.1 128.8,416.4 129.3,416.4 129.8,416.4 130.3,416.9 130.8,417.0 131.3,417.2 131.8,417.7 132.3,417.8 132.8,418.5 133.3,418.9 133.8,419.8 134.3,419.5 134.8,420.0 135.3,420.7 135.8,420.3 136.3,420.6 136.8,421.2 137.3,421.7 137.8,421.4 138.3,422.0 138.8,422.1 139.3,421.8 139.8,422.2 140.3,421.9 140.8,421.9 141.3,422.5 141.8,421.8 142.3,422.5 142.8,421.8 143.3,421.8 143.8,422.2 144.3,422.8 144.8,422.2 145.3,422.4 145.8,421.7 146.3,422.7 146.8,421.7 147.3,421.5 147.8,421.7 148.3,421.6 148.8,422.2 149.3,421.2 149.8,421.8 150.3,421.3 150.8,421.4 151.3,422.5 151.8,421.9 152.3,422.0 152.8,423.4 153.3,423.4 153.8,423.3 154.3,424.3 154.8,423.9 155.3,424.8 155.8,424.6 156.3,425.4 156.8,425.3 157.3,425.3 157.8,425.8 158.3,425.9 158.8,425.9 159.3,426.0 159.8,426.1 160.3,426.1 160.8,426.2 161.3,426.0 161.8,426.1 162.3,426.1 162.8,426.3 163.3,426.2 163.8,426.3 164.3,426.2 164.8,426.2 165.3,426.3 165.8,426.2 166.3,426.3 166.8,426.3 167.3,426.2 167.8,426.3 168.3,426.2 168.8,426.3 169.3,426.3 169.8,426.2 170.3,426.3 170.8,426.2 171.3,426.3 171.8,426.3 172.3,426.3 172.8,426.3 173.3,426.3 173.8,426.3 174.3,426.3 174.8,426.2 175.3,426.3 175.8,426.3 176.3,426.2 176.8,426.3" fill="none" stroke="#000" stroke-width="1.6" stroke-linejoin="round"/>
<rect x="110.00" y="389.30" width="67.80" height="38.40" fill="none" stroke="#2b2b2b" stroke-width="1.1"/>
</g>
<g>
<polyline points="200.2,426.6 200.7,426.4 201.2,426.1 201.7,425.7 202.2,425.1 202.7,424.4 203.2,423.5 203.7,422.5 204.2,421.2 204.7,419.8 205.2,418.4 205.7,416.9 206.2,415.5 206.7,414.2 207.2,413.3 207.7,412.6 208.2,412.3 208.7,412.4 209.2,412.9 209.7,413.8 210.2,415.0 210.7,416.3 211.2,417.8 211.7,419.3 212.2,420.7 212.7,422.0 213.2,423.1 213.7,424.1 214.2,424.9 214.7,425.5 215.2,426.0 215.7,426.3 216.2,426.5 216.7,426.7" fill="none" stroke="#777" stroke-width="0.6" stroke-linejoin="round" stroke-dasharray="0.8 0.6"/>
<polyline points="191.0,427.0 191.5,427.0 192.0,427.0 192.5,427.0 193.0,427.0 193.5,427.0 194.0,427.0 194.5,427.0 195.0,426.9 195.5,427.0 196.0,427.0 196.5,426.9 197.0,427.0 197.5,427.0 198.0,427.0 198.5,427.0 199.0,426.9 199.5,426.9 200.0,426.8 200.5,426.7 201.0,426.7 201.5,426.3 202.0,426.0 202.5,425.8 203.0,424.3 203.5,424.2 204.0,423.1 204.5,421.7 205.0,419.3 205.5,417.0 206.0,414.9 206.5,413.2 207.0,411.2 207.5,409.6 208.0,407.3 208.5,406.5 209.0,406.3 209.5,406.1 210.0,406.9 210.5,407.3 211.0,408.8 211.5,410.9 212.0,411.8 212.5,414.5 213.0,415.6 213.5,417.4 214.0,419.1 214.5,420.6 215.0,420.8 215.5,422.7 216.0,422.8 216.5,422.9 217.0,424.2 217.5,424.5 218.0,424.2 218.5,424.4 219.0,424.3 219.5,424.2 220.0,424.9 220.5,424.7 221.0,424.7 221.5,425.0 222.0,424.0 222.5,424.1 223.0,424.2 223.5,425.0 224.0,424.0 224.5,424.1 225.0,424.5 225.5,424.1 226.0,424.5 226.5,424.8 227.0,425.0 227.5,424.9 228.0,425.1 228.5,424.8 229.0,424.4 229.5,424.5 230.0,424.3 230.5,424.4 231.0,424.9 231.5,424.4 232.0,424.4 232.5,423.8 233.0,423.9 233.5,424.0 234.0,423.2 234.5,422.6 235.0,423.2 235.5,422.2 236.0,423.1 236.5,422.7 237.0,422.7 237.5,422.2 238.0,422.1 238.5,422.5 239.0,423.3 239.5,422.8 240.0,423.7 240.5,424.1 241.0,423.5 241.5,424.0 242.0,424.0 242.5,424.2 243.0,423.9 243.5,424.6 244.0,424.2 244.5,424.4 245.0,424.4 245.5,425.0 246.0,424.8 246.5,425.1 247.0,425.6 247.5,425.8 248.0,425.7 248.5,426.3 249.0,426.0 249.5,426.5 250.0,426.7 250.5,426.8 251.0,426.6 251.5,426.8 252.0,426.9 252.5,427.0 253.0,427.0 253.5,426.9 254.0,426.9 254.5,426.9 255.0,426.9 255.5,427.0 256.0,427.0 256.5,427.0 257.0,426.9" fill="none" stroke="#000" stroke-width="1.6" stroke-linejoin="round"/>
<rect x="190.20" y="390.30" width="67.60" height="37.80" fill="none" stroke="#2b2b2b" stroke-width="1.1"/>
</g>
<g>
<polyline points="271.7,426.7 272.2,426.5 272.7,426.2 273.2,425.8 273.7,425.3 274.2,424.6 274.7,423.7 275.2,422.7 275.7,421.5 276.2,420.2 276.7,418.8 277.2,417.5 277.7,416.3 278.2,415.3 278.7,414.7 279.2,414.4 279.7,414.5 280.2,415.0 280.7,415.9 281.2,417.0 281.7,418.3 282.2,419.6 282.7,421.0 283.2,422.2 283.7,423.3 284.2,424.3 284.7,425.0 285.2,425.6 285.7,426.1 286.2,426.4 286.7,426.6" fill="none" stroke="#777" stroke-width="0.6" stroke-linejoin="round" stroke-dasharray="0.8 0.6"/>
<polyline points="262.0,426.9 262.5,426.9 263.0,427.0 263.5,426.9 264.0,426.9 264.5,426.9 265.0,427.0 265.5,427.0 266.0,427.0 266.5,427.0 267.0,426.9 267.5,426.9 268.0,427.0 268.5,426.9 269.0,427.0 269.5,427.0 270.0,427.0 270.5,427.0 271.0,426.8 271.5,426.9 272.0,426.8 272.5,426.7 273.0,426.7 273.5,426.4 274.0,426.1 274.5,425.3 275.0,425.1 275.5,424.5 276.0,422.8 276.5,422.5 277.0,420.8 277.5,419.9 278.0,419.4 278.5,417.4 279.0,416.0 279.5,414.1 280.0,413.5 280.5,412.0 281.0,411.5 281.5,411.5 282.0,410.5 282.5,411.8 283.0,411.3 283.5,413.1 284.0,414.4 284.5,415.3 285.0,415.9 285.5,417.0 286.0,419.7 286.5,420.2 287.0,421.3 287.5,421.9 288.0,423.5 288.5,423.7 289.0,424.4 289.5,424.0 290.0,424.9 290.5,424.1 291.0,425.0 291.5,425.0 292.0,424.2 292.5,424.2 293.0,424.6 293.5,423.6 294.0,424.2 294.5,423.0 295.0,422.9 295.5,422.6 296.0,422.6 296.5,422.9 297.0,422.7 297.5,422.6 298.0,421.8 298.5,422.9 299.0,421.6 299.5,422.3 300.0,421.2 300.5,420.8 301.0,420.8 301.5,422.3 302.0,423.0 302.5,422.5 303.0,423.6 303.5,423.5 304.0,423.6 304.5,423.5 305.0,423.8 305.5,424.2 306.0,424.8 306.5,425.1 307.0,425.5 307.5,425.0 308.0,425.4 308.5,425.5 309.0,426.1 309.5,426.1 310.0,426.0 310.5,426.3 311.0,426.6 311.5,426.5 312.0,426.4 312.5,426.8 313.0,426.8 313.5,426.8 314.0,426.8 314.5,426.8 315.0,427.0 315.5,427.0 316.0,427.0 316.5,427.0 317.0,427.0 317.5,427.0 318.0,427.0 318.5,427.0 319.0,426.9 319.5,426.9 320.0,427.0 320.5,426.9 321.0,427.0 321.5,427.0 322.0,426.9 322.5,426.9 323.0,427.0 323.5,427.0 324.0,427.0 324.5,427.0 325.0,427.0 325.5,427.0 326.0,427.0 326.5,427.0 327.0,427.0 327.5,426.9 328.0,427.0" fill="none" stroke="#000" stroke-width="1.6" stroke-linejoin="round"/>
<rect x="261.20" y="390.30" width="67.70" height="37.80" fill="none" stroke="#2b2b2b" stroke-width="1.1"/>
</g>
<g>
<polyline points="348.8,426.9 349.3,426.7 349.8,426.3 350.3,425.8 350.8,425.1 351.3,424.3 351.8,423.1 352.3,421.7 352.8,420.2 353.3,418.4 353.8,416.6 354.3,414.7 354.8,413.1 355.3,411.7 355.8,410.7 356.3,410.2 356.8,410.3 357.3,410.6 357.8,411.3 358.3,412.3 358.8,413.5 359.3,414.9 359.8,416.3 360.3,417.8 360.8,419.3 361.3,420.6 361.8,421.9 362.3,423.0 362.8,423.9 363.3,424.7 363.8,425.4 364.3,425.9 364.8,426.3 365.3,426.6 365.8,426.8 366.3,427.0" fill="none" stroke="#444" stroke-width="0.7" stroke-linejoin="round" stroke-dasharray="1 0.9"/>
<polyline points="343.1,427.3 343.6,427.3 344.1,427.3 344.6,427.3 345.1,427.3 345.6,427.3 346.1,427.3 346.6,427.2 347.1,427.3 347.6,427.3 348.1,427.2 348.6,427.3 349.1,427.3 349.6,427.2 350.1,427.2 350.6,427.2 351.1,427.2 351.6,427.0 352.1,427.0 352.6,426.8 353.1,426.6 353.6,426.3 354.1,425.4 354.6,425.2 355.1,423.7 355.6,421.9 356.1,420.4 356.6,418.8 357.1,417.4 357.6,415.5 358.1,414.0 358.6,412.7 359.1,412.4 359.6,412.1 360.1,412.0 360.6,413.3 361.1,413.3 361.6,414.0 362.1,415.3 362.6,416.2 363.1,416.7 363.6,418.8 364.1,419.2 364.6,420.7 365.1,420.8 365.6,421.4 366.1,422.6 366.6,423.7 367.1,423.7 367.6,424.1 368.1,424.2 368.6,424.7 369.1,424.7 369.6,424.6 370.1,425.0 370.6,425.1 371.1,424.5 371.6,425.3 372.1,424.7 372.6,425.0 373.1,424.5 373.6,425.2 374.1,424.2 374.6,424.9 375.1,425.2 375.6,424.9 376.1,424.7 376.6,425.1 377.1,424.6 377.6,424.6 378.1,424.3 378.6,424.7 379.1,424.8 379.6,424.9 380.1,424.3 380.6,424.1 381.1,424.6 381.6,425.0 382.1,424.4 382.6,424.9 383.1,425.1 383.6,425.2 384.1,424.4 384.6,424.3 385.1,424.4 385.6,424.6 386.1,424.4 386.6,424.8 387.1,424.0 387.6,424.8 388.1,424.6 388.6,424.6 389.1,424.8 389.6,425.4 390.1,425.8 390.6,425.9 391.1,426.4 391.6,426.1 392.1,426.5 392.6,426.4 393.1,426.8 393.6,426.9 394.1,427.0 394.6,427.0 395.1,427.1 395.6,427.2 396.1,427.0 396.6,427.2 397.1,427.2 397.6,427.2 398.1,427.2 398.6,427.2 399.1,427.2 399.6,427.2 400.1,427.3 400.6,427.2 401.1,427.2 401.6,427.3 402.1,427.2 402.6,427.2 403.1,427.2 403.6,427.3 404.1,427.2 404.6,427.3 405.1,427.3 405.6,427.3 406.1,427.2 406.6,427.3 407.1,427.3 407.6,427.3 408.1,427.3 408.6,427.3 409.1,427.2" fill="none" stroke="#000" stroke-width="1.6" stroke-linejoin="round"/>
<rect x="342.30" y="390.40" width="67.60" height="37.90" fill="none" stroke="#2b2b2b" stroke-width="1.1"/>
</g>
<g>
<polyline points="422.7,426.9 423.2,426.6 423.7,426.2 424.2,425.6 424.7,424.7 425.2,423.5 425.7,422.1 426.2,420.3 426.7,418.3 427.2,416.0 427.7,413.8 428.2,411.7 428.7,409.9 429.2,408.7 429.7,408.1 430.2,408.1 430.7,408.7 431.2,409.7 431.7,411.2 432.2,412.9 432.7,414.8 433.2,416.8 433.7,418.6 434.2,420.4 434.7,421.9 435.2,423.2 435.7,424.3 436.2,425.2 436.7,425.8 437.2,426.3 437.7,426.6 438.2,426.9 438.7,427.0" fill="none" stroke="#444" stroke-width="0.7" stroke-linejoin="round" stroke-dasharray="1 0.9"/>
<polyline points="414.5,427.3 415.0,427.3 415.5,427.2 416.0,427.2 416.5,427.3 417.0,427.2 417.5,427.3 418.0,427.2 418.5,427.3 419.0,427.2 419.5,427.2 420.0,427.2 420.5,427.3 421.0,427.3 421.5,427.3 422.0,427.2 422.5,427.3 423.0,427.1 423.5,427.2 424.0,427.1 424.5,427.0 425.0,426.9 425.5,426.4 426.0,426.3 426.5,425.5 427.0,425.2 427.5,423.8 428.0,422.7 428.5,421.3 429.0,419.4 429.5,418.9 430.0,416.2 430.5,415.0 431.0,413.4 431.5,412.0 432.0,410.9 432.5,410.9 433.0,410.8 433.5,410.4 434.0,412.1 434.5,412.3 435.0,413.4 435.5,415.5 436.0,416.1 436.5,417.4 437.0,418.5 437.5,420.5 438.0,420.8 438.5,422.3 439.0,423.1 439.5,423.3 440.0,424.8 440.5,424.3 441.0,424.6 441.5,425.0 442.0,424.4 442.5,424.9 443.0,424.7 443.5,424.5 444.0,424.0 444.5,424.5 445.0,424.1 445.5,423.9 446.0,423.6 446.5,423.1 447.0,423.6 447.5,422.8 448.0,423.2 448.5,423.0 449.0,423.2 449.5,422.9 450.0,422.3 450.5,422.7 451.0,422.5 451.5,423.1 452.0,423.2 452.5,423.3 453.0,423.0 453.5,423.0 454.0,423.0 454.5,424.0 455.0,423.2 455.5,423.1 456.0,423.6 456.5,424.3 457.0,424.1 457.5,424.6 458.0,424.5 458.5,423.7 459.0,424.2 459.5,424.2 460.0,424.2 460.5,424.2 461.0,424.7 461.5,424.8 462.0,425.0 462.5,425.1 463.0,425.4 463.5,425.5 464.0,426.0 464.5,425.8 465.0,426.2 465.5,426.1 466.0,426.6 466.5,426.7 467.0,426.9 467.5,426.7 468.0,426.7 468.5,426.9 469.0,427.1 469.5,427.0 470.0,427.1 470.5,427.2 471.0,427.3 471.5,427.3 472.0,427.3 472.5,427.3 473.0,427.3 473.5,427.2 474.0,427.2 474.5,427.3 475.0,427.3 475.5,427.3 476.0,427.3 476.5,427.2 477.0,427.3 477.5,427.2 478.0,427.3 478.5,427.3 479.0,427.3 479.5,427.3 480.0,427.2" fill="none" stroke="#000" stroke-width="1.6" stroke-linejoin="round"/>
<rect x="413.70" y="390.40" width="67.40" height="37.90" fill="none" stroke="#2b2b2b" stroke-width="1.1"/>
</g>
<g>
<polyline points="50.9,470.8 51.4,470.5 51.9,469.8 52.4,468.9 52.9,467.5 53.4,465.7 53.9,463.4 54.4,460.7 54.9,457.8 55.4,454.9 55.9,452.5 56.4,450.8 56.9,450.0 57.4,450.3 57.9,451.4 58.4,453.3 58.9,455.7 59.4,458.4 59.9,461.0 60.4,463.5 60.9,465.6 61.4,467.3 61.9,468.7 62.4,469.6 62.9,470.3 63.4,470.7 63.9,471.0" fill="none" stroke="#444" stroke-width="0.7" stroke-linejoin="round" stroke-dasharray="1 0.9"/>
<polyline points="39.7,471.2 40.2,471.3 40.7,471.3 41.2,471.3 41.7,471.3 42.2,471.3 42.7,471.3 43.2,471.3 43.7,471.3 44.2,471.3 44.7,471.3 45.2,471.2 45.7,471.3 46.2,471.2 46.7,471.3 47.2,471.3 47.7,471.2 48.2,471.3 48.7,471.2 49.2,471.3 49.7,471.3 50.2,471.0 50.7,470.9 51.2,470.6 51.7,470.4 52.2,470.5 52.7,469.7 53.2,469.0 53.7,468.7 54.2,467.4 54.7,467.8 55.2,466.2 55.7,466.1 56.2,466.7 56.7,466.6 57.2,465.7 57.7,465.6 58.2,466.8 58.7,466.8 59.2,466.5 59.7,467.6 60.2,466.8 60.7,467.6 61.2,468.3 61.7,467.9 62.2,467.6 62.7,467.7 63.2,467.2 63.7,467.8 64.2,466.7 64.7,467.1 65.2,466.6 65.7,466.5 66.2,466.6 66.7,466.5 67.2,465.9 67.7,465.5 68.2,465.6 68.7,465.8 69.2,466.0 69.7,466.1 70.2,464.6 70.7,464.7 71.2,464.3 71.7,464.7 72.2,464.0 72.7,463.2 73.2,463.1 73.7,463.1 74.2,463.3 74.7,462.9 75.2,462.1 75.7,462.7 76.2,462.2 76.7,462.3 77.2,462.1 77.7,462.5 78.2,463.8 78.7,464.8 79.2,465.1 79.7,465.6 80.2,466.2 80.7,466.6 81.2,467.1 81.7,468.9 82.2,468.3 82.7,468.8 83.2,469.2 83.7,469.7 84.2,470.2 84.7,469.8 85.2,470.0 85.7,470.1 86.2,470.0 86.7,470.4 87.2,470.5 87.7,470.2 88.2,470.1 88.7,470.5 89.2,470.2 89.7,470.1 90.2,470.6 90.7,470.4 91.2,470.5 91.7,470.7 92.2,470.9 92.7,470.9 93.2,470.8 93.7,470.8 94.2,471.0 94.7,471.2 95.2,471.0 95.7,471.1 96.2,471.2 96.7,471.2 97.2,471.1 97.7,471.2 98.2,471.3 98.7,471.3 99.2,471.3 99.7,471.3 100.2,471.3 100.7,471.3 101.2,471.3 101.7,471.3 102.2,471.3 102.7,471.3 103.2,471.3 103.7,471.3 104.2,471.3 104.7,471.2 105.2,471.3 105.7,471.3" fill="none" stroke="#000" stroke-width="1.6" stroke-linejoin="round"/>
<rect x="38.90" y="434.50" width="67.80" height="37.90" fill="none" stroke="#2b2b2b" stroke-width="1.1"/>
<text x="40.30" y="445.20" font-size="6.35" font-weight="normal" text-anchor="start" fill="#111" class="r">Medium</text>
<text x="67.00" y="457.70" font-size="7.2" font-weight="bold" text-anchor="start" fill="#000" class="b">Lipoplatin</text>
</g>
<g>
<polyline points="117.5,471.0 118.0,470.8 118.5,470.5 119.0,470.1 119.5,469.6 120.0,468.9 120.5,468.0 121.0,466.8 121.5,465.5 122.0,464.0 122.5,462.4 123.0,460.8 123.5,459.2 124.0,457.8 124.5,456.7 125.0,455.9 125.5,455.6 126.0,455.7 126.5,456.2 127.0,457.0 127.5,458.0 128.0,459.2 128.5,460.6 129.0,462.1 129.5,463.5 130.0,464.8 130.5,466.1 131.0,467.2 131.5,468.1 132.0,468.9 132.5,469.5 133.0,470.0 133.5,470.4 134.0,470.7 134.5,470.9 135.0,471.0" fill="none" stroke="#444" stroke-width="0.7" stroke-linejoin="round" stroke-dasharray="1 0.9"/>
<polyline points="110.8,471.2 111.3,471.1 111.8,471.2 112.3,471.1 112.8,471.2 113.3,471.1 113.8,471.2 114.3,471.2 114.8,470.9 115.3,470.9 115.8,470.9 116.3,470.9 116.8,470.9 117.3,470.7 117.8,470.8 118.3,470.5 118.8,470.5 119.3,470.4 119.8,470.3 120.3,470.5 120.8,470.6 121.3,470.4 121.8,470.3 122.3,470.3 122.8,470.3 123.3,469.9 123.8,469.6 124.3,469.8 124.8,469.3 125.3,469.2 125.8,469.8 126.3,469.3 126.8,469.4 127.3,469.5 127.8,468.7 128.3,469.2 128.8,468.9 129.3,468.7 129.8,468.3 130.3,468.6 130.8,468.8 131.3,468.7 131.8,468.9 132.3,468.1 132.8,468.0 133.3,468.8 133.8,469.0 134.3,468.7 134.8,468.7 135.3,468.1 135.8,468.2 136.3,468.3 136.8,469.1 137.3,468.4 137.8,468.5 138.3,468.6 138.8,468.4 139.3,469.3 139.8,469.3 140.3,468.8 140.8,468.7 141.3,468.9 141.8,469.2 142.3,468.9 142.8,468.6 143.3,469.1 143.8,468.6 144.3,468.3 144.8,468.0 145.3,467.1 145.8,466.7 146.3,466.0 146.8,465.3 147.3,464.0 147.8,464.0 148.3,462.6 148.8,462.7 149.3,462.5 149.8,461.5 150.3,462.3 150.8,461.9 151.3,462.5 151.8,463.2 152.3,464.7 152.8,465.3 153.3,466.6 153.8,466.7 154.3,467.6 154.8,468.5 155.3,469.3 155.8,469.9 156.3,470.0 156.8,470.5 157.3,470.7 157.8,471.0 158.3,471.1 158.8,471.2 159.3,471.1 159.8,471.2 160.3,471.3 160.8,471.2 161.3,471.3 161.8,471.3 162.3,471.3 162.8,471.3 163.3,471.2 163.8,471.3 164.3,471.3 164.8,471.3 165.3,471.3 165.8,471.2 166.3,471.3 166.8,471.2 167.3,471.3 167.8,471.2 168.3,471.3 168.8,471.3 169.3,471.3 169.8,471.3 170.3,471.3 170.8,471.3 171.3,471.3 171.8,471.2 172.3,471.2 172.8,471.2 173.3,471.3 173.8,471.3 174.3,471.2 174.8,471.3 175.3,471.3 175.8,471.3 176.3,471.2 176.8,471.3" fill="none" stroke="#000" stroke-width="1.6" stroke-linejoin="round"/>
<rect x="110.00" y="434.50" width="67.80" height="37.90" fill="none" stroke="#2b2b2b" stroke-width="1.1"/>
<text x="115.10" y="446.60" font-size="6.35" font-weight="normal" text-anchor="start" fill="#111" class="r">Medium</text>
<text x="139.30" y="456.30" font-size="7.2" font-weight="bold" text-anchor="start" fill="#000" class="b">Lipoplatin</text>
</g>
<g>
<polyline points="200.2,471.2 200.7,471.0 201.2,470.8 201.7,470.4 202.2,470.0 202.7,469.4 203.2,468.7 203.7,467.8 204.2,466.8 204.7,465.7 205.2,464.5 205.7,463.3 206.2,462.1 206.7,461.1 207.2,460.3 207.7,459.7 208.2,459.5 208.7,459.6 209.2,460.0 209.7,460.7 210.2,461.7 210.7,462.8 211.2,464.0 211.7,465.2 212.2,466.3 212.7,467.4 213.2,468.3 213.7,469.1 214.2,469.8 214.7,470.3 215.2,470.6 215.7,470.9 216.2,471.1" fill="none" stroke="#777" stroke-width="0.6" stroke-linejoin="round" stroke-dasharray="0.8 0.6"/>
<polyline points="191.0,471.4 191.5,471.5 192.0,471.5 192.5,471.5 193.0,471.3 193.5,471.5 194.0,471.5 194.5,471.5 195.0,471.3 195.5,471.5 196.0,471.5 196.5,471.5 197.0,471.5 197.5,471.4 198.0,471.4 198.5,471.5 199.0,471.5 199.5,471.5 200.0,471.4 200.5,471.4 201.0,471.5 201.5,471.5 202.0,471.0 202.5,470.6 203.0,470.1 203.5,470.0 204.0,470.3 204.5,470.3 205.0,467.3 205.5,467.3 206.0,465.2 206.5,466.1 207.0,462.4 207.5,462.7 208.0,459.9 208.5,458.9 209.0,459.3 209.5,460.5 210.0,457.5 210.5,459.2 211.0,458.5 211.5,461.2 212.0,462.5 212.5,461.5 213.0,464.1 213.5,465.8 214.0,466.1 214.5,466.2 215.0,468.8 215.5,467.6 216.0,468.1 216.5,468.0 217.0,469.2 217.5,467.2 218.0,466.6 218.5,466.2 219.0,467.5 219.5,465.9 220.0,466.5 220.5,464.9 221.0,466.7 221.5,463.8 222.0,463.1 222.5,464.3 223.0,463.9 223.5,463.6 224.0,463.4 224.5,464.8 225.0,461.6 225.5,463.8 226.0,463.7 226.5,463.7 227.0,462.8 227.5,460.5 228.0,462.4 228.5,461.4 229.0,458.5 229.5,459.0 230.0,458.3 230.5,455.1 231.0,454.0 231.5,453.1 232.0,451.7 232.5,453.1 233.0,450.6 233.5,451.5 234.0,454.6 234.5,455.7 235.0,456.2 235.5,458.1 236.0,460.8 236.5,463.3 237.0,464.3 237.5,466.8 238.0,466.7 238.5,466.9 239.0,470.0 239.5,469.3 240.0,469.3 240.5,470.8 241.0,469.6 241.5,469.4 242.0,470.4 242.5,470.2 243.0,469.3 243.5,469.9 244.0,470.2 244.5,469.1 245.0,469.5 245.5,470.5 246.0,470.8 246.5,470.7 247.0,470.7 247.5,470.1 248.0,470.5 248.5,470.6 249.0,470.8 249.5,471.0 250.0,471.5 250.5,471.3 251.0,471.1 251.5,471.2 252.0,471.5 252.5,471.5 253.0,471.4 253.5,471.5 254.0,471.5 254.5,471.5 255.0,471.5 255.5,471.5 256.0,471.5 256.5,471.5 257.0,471.3" fill="none" stroke="#000" stroke-width="1.6" stroke-linejoin="round"/>
<rect x="190.20" y="435.10" width="67.60" height="37.60" fill="none" stroke="#2b2b2b" stroke-width="1.1"/>
<text x="192.40" y="450.10" font-size="6.35" font-weight="normal" text-anchor="start" fill="#111" class="r">Medium</text>
<text x="219.00" y="446.40" font-size="7.2" font-weight="bold" text-anchor="start" fill="#000" class="b">Lipoplatin</text>
</g>
<g>
<polyline points="272.2,471.1 272.7,470.9 273.2,470.5 273.7,470.0 274.2,469.2 274.7,468.2 275.2,466.9 275.7,465.4 276.2,463.8 276.7,462.0 277.2,460.3 277.7,458.8 278.2,457.7 278.7,457.1 279.2,457.0 279.7,457.6 280.2,458.6 280.7,460.0 281.2,461.7 281.7,463.4 282.2,465.1 282.7,466.7 283.2,468.0 283.7,469.0 284.2,469.8 284.7,470.4 285.2,470.8 285.7,471.1" fill="none" stroke="#444" stroke-width="0.7" stroke-linejoin="round" stroke-dasharray="1 0.9"/>
<polyline points="262.0,471.5 262.5,471.4 263.0,471.5 263.5,471.5 264.0,471.4 264.5,471.4 265.0,471.5 265.5,471.5 266.0,471.5 266.5,471.5 267.0,471.5 267.5,471.5 268.0,471.4 268.5,471.5 269.0,471.5 269.5,471.5 270.0,471.5 270.5,471.3 271.0,471.4 271.5,471.4 272.0,471.2 272.5,471.2 273.0,471.0 273.5,470.7 274.0,470.7 274.5,470.6 275.0,470.2 275.5,469.9 276.0,469.9 276.5,469.6 277.0,469.4 277.5,468.9 278.0,468.5 278.5,468.4 279.0,468.3 279.5,468.3 280.0,467.9 280.5,467.6 281.0,467.9 281.5,468.1 282.0,468.2 282.5,468.8 283.0,468.5 283.5,469.0 284.0,469.2 284.5,469.4 285.0,469.8 285.5,470.1 286.0,470.3 286.5,470.4 287.0,470.4 287.5,470.5 288.0,470.4 288.5,470.7 289.0,470.5 289.5,470.1 290.0,470.3 290.5,470.0 291.0,469.9 291.5,469.9 292.0,469.2 292.5,469.6 293.0,469.0 293.5,469.4 294.0,469.3 294.5,468.4 295.0,468.6 295.5,468.7 296.0,468.1 296.5,467.6 297.0,466.8 297.5,466.6 298.0,465.5 298.5,463.6 299.0,462.4 299.5,461.4 300.0,459.5 300.5,457.7 301.0,455.6 301.5,454.1 302.0,452.6 302.5,451.8 303.0,451.7 303.5,451.6 304.0,452.4 304.5,453.7 305.0,455.8 305.5,457.6 306.0,459.8 306.5,461.8 307.0,464.6 307.5,465.6 308.0,468.0 308.5,468.4 309.0,469.5 309.5,470.2 310.0,470.5 310.5,471.0 311.0,471.2 311.5,471.3 312.0,471.3 312.5,471.4 313.0,471.5 313.5,471.5 314.0,471.5 314.5,471.5 315.0,471.5 315.5,471.5 316.0,471.5 316.5,471.5 317.0,471.5 317.5,471.5 318.0,471.4 318.5,471.5 319.0,471.5 319.5,471.5 320.0,471.5 320.5,471.5 321.0,471.5 321.5,471.5 322.0,471.5 322.5,471.4 323.0,471.5 323.5,471.4 324.0,471.4 324.5,471.4 325.0,471.5 325.5,471.5 326.0,471.4 326.5,471.5 327.0,471.5 327.5,471.5 328.0,471.5" fill="none" stroke="#000" stroke-width="1.6" stroke-linejoin="round"/>
<rect x="261.20" y="435.10" width="67.70" height="37.60" fill="none" stroke="#2b2b2b" stroke-width="1.1"/>
<text x="264.50" y="450.80" font-size="6.35" font-weight="normal" text-anchor="start" fill="#111" class="r">Medium</text>
<text x="289.60" y="447.00" font-size="7.2" font-weight="bold" text-anchor="start" fill="#000" class="b">Lipoplatin</text>
</g>
<g>
<polyline points="350.3,471.2 350.8,470.9 351.3,470.5 351.8,469.9 352.3,469.0 352.8,467.8 353.3,466.3 353.8,464.5 354.3,462.4 354.8,460.2 355.3,458.1 355.8,456.2 356.3,454.7 356.8,453.8 357.3,453.6 357.8,453.9 358.3,454.6 358.8,455.6 359.3,456.9 359.8,458.4 360.3,460.0 360.8,461.7 361.3,463.3 361.8,464.8 362.3,466.1 362.8,467.3 363.3,468.3 363.8,469.2 364.3,469.8 364.8,470.3 365.3,470.7 365.8,471.0 366.3,471.2 366.8,471.3" fill="none" stroke="#444" stroke-width="0.7" stroke-linejoin="round" stroke-dasharray="1 0.9"/>
<polyline points="343.1,471.5 343.6,471.5 344.1,471.6 344.6,471.5 345.1,471.6 345.6,471.6 346.1,471.5 346.6,471.6 347.1,471.6 347.6,471.6 348.1,471.6 348.6,471.4 349.1,471.5 349.6,471.5 350.1,471.6 350.6,471.4 351.1,471.4 351.6,471.2 352.1,471.1 352.6,470.7 353.1,470.5 353.6,470.6 354.1,470.4 354.6,469.9 355.1,469.1 355.6,469.6 356.1,468.9 356.6,468.1 357.1,468.7 357.6,468.1 358.1,466.7 358.6,466.6 359.1,466.8 359.6,467.3 360.1,465.8 360.6,466.1 361.1,465.9 361.6,465.7 362.1,466.1 362.6,467.2 363.1,468.0 363.6,468.2 364.1,468.2 364.6,468.7 365.1,469.6 365.6,470.0 366.1,469.7 366.6,470.1 367.1,470.5 367.6,470.2 368.1,470.5 368.6,471.0 369.1,470.6 369.6,470.0 370.1,470.2 370.6,469.3 371.1,469.8 371.6,468.7 372.1,467.1 372.6,466.7 373.1,465.8 373.6,465.7 374.1,464.5 374.6,463.8 375.1,463.7 375.6,462.8 376.1,462.8 376.6,462.1 377.1,462.8 377.6,463.2 378.1,463.9 378.6,464.1 379.1,463.3 379.6,464.7 380.1,465.0 380.6,465.1 381.1,464.8 381.6,464.5 382.1,465.1 382.6,464.9 383.1,466.2 383.6,466.4 384.1,465.2 384.6,466.0 385.1,465.4 385.6,466.1 386.1,466.5 386.6,466.4 387.1,466.9 387.6,465.8 388.1,466.6 388.6,467.3 389.1,467.5 389.6,468.1 390.1,469.0 390.6,468.1 391.1,469.1 391.6,469.0 392.1,470.0 392.6,470.2 393.1,470.8 393.6,471.1 394.1,470.8 394.6,471.0 395.1,471.4 395.6,471.2 396.1,471.3 396.6,471.5 397.1,471.5 397.6,471.4 398.1,471.6 398.6,471.5 399.1,471.6 399.6,471.6 400.1,471.5 400.6,471.6 401.1,471.6 401.6,471.5 402.1,471.6 402.6,471.5 403.1,471.6 403.6,471.6 404.1,471.6 404.6,471.6 405.1,471.5 405.6,471.6 406.1,471.6 406.6,471.6 407.1,471.6 407.6,471.6 408.1,471.6 408.6,471.6 409.1,471.6" fill="none" stroke="#000" stroke-width="1.6" stroke-linejoin="round"/>
<rect x="342.30" y="435.50" width="67.60" height="37.30" fill="none" stroke="#2b2b2b" stroke-width="1.1"/>
<text x="346.90" y="446.60" font-size="6.35" font-weight="normal" text-anchor="start" fill="#111" class="r">Medium</text>
<text x="370.00" y="456.30" font-size="7.2" font-weight="bold" text-anchor="start" fill="#000" class="b">Lipoplatin</text>
</g>
<g>
<polyline points="422.2,471.3 422.7,471.0 423.2,470.5 423.7,469.7 424.2,468.6 424.7,467.0 425.2,465.0 425.7,462.6 426.2,459.8 426.7,457.1 427.2,454.6 427.7,452.6 428.2,451.5 428.7,451.3 429.2,451.6 429.7,452.2 430.2,453.1 430.7,454.1 431.2,455.4 431.7,456.9 432.2,458.4 432.7,459.9 433.2,461.4 433.7,462.9 434.2,464.2 434.7,465.5 435.2,466.6 435.7,467.6 436.2,468.4 436.7,469.1 437.2,469.7 437.7,470.2 438.2,470.5 438.7,470.8 439.2,471.0 439.7,471.2 440.2,471.3" fill="none" stroke="#444" stroke-width="0.7" stroke-linejoin="round" stroke-dasharray="1 0.9"/>
<polyline points="414.5,471.5 415.0,471.6 415.5,471.6 416.0,471.6 416.5,471.6 417.0,471.6 417.5,471.6 418.0,471.6 418.5,471.6 419.0,471.6 419.5,471.5 420.0,471.6 420.5,471.6 421.0,471.5 421.5,471.6 422.0,471.6 422.5,471.4 423.0,471.4 423.5,471.6 424.0,471.4 424.5,471.2 425.0,471.3 425.5,470.8 426.0,471.1 426.5,470.4 427.0,470.5 427.5,470.5 428.0,470.1 428.5,470.2 429.0,469.2 429.5,469.6 430.0,468.4 430.5,468.7 431.0,468.9 431.5,469.0 432.0,468.4 432.5,469.1 433.0,468.1 433.5,469.5 434.0,469.0 434.5,469.2 435.0,469.8 435.5,469.5 436.0,470.2 436.5,470.1 437.0,470.5 437.5,470.9 438.0,471.0 438.5,471.3 439.0,471.3 439.5,471.0 440.0,471.3 440.5,471.0 441.0,471.2 441.5,470.6 442.0,470.4 442.5,469.8 443.0,469.4 443.5,469.1 444.0,467.9 444.5,467.3 445.0,466.8 445.5,465.3 446.0,465.7 446.5,465.3 447.0,464.4 447.5,464.6 448.0,464.4 448.5,464.5 449.0,465.7 449.5,465.4 450.0,465.8 450.5,464.7 451.0,464.6 451.5,464.9 452.0,464.6 452.5,463.9 453.0,463.6 453.5,463.9 454.0,462.6 454.5,463.1 455.0,462.5 455.5,463.1 456.0,463.3 456.5,462.3 457.0,463.1 457.5,463.9 458.0,465.9 458.5,466.9 459.0,467.7 459.5,468.7 460.0,469.4 460.5,469.9 461.0,470.8 461.5,470.9 462.0,471.0 462.5,471.4 463.0,471.3 463.5,471.5 464.0,471.5 464.5,471.6 465.0,471.6 465.5,471.5 466.0,471.6 466.5,471.6 467.0,471.5 467.5,471.5 468.0,471.6 468.5,471.6 469.0,471.5 469.5,471.6 470.0,471.6 470.5,471.6 471.0,471.6 471.5,471.5 472.0,471.6 472.5,471.5 473.0,471.5 473.5,471.6 474.0,471.6 474.5,471.6 475.0,471.5 475.5,471.5 476.0,471.6 476.5,471.6 477.0,471.5 477.5,471.6 478.0,471.5 478.5,471.6 479.0,471.5 479.5,471.5 480.0,471.6" fill="none" stroke="#000" stroke-width="1.6" stroke-linejoin="round"/>
<rect x="413.70" y="435.50" width="67.40" height="37.30" fill="none" stroke="#2b2b2b" stroke-width="1.1"/>
<text x="417.10" y="446.20" font-size="6.35" font-weight="normal" text-anchor="start" fill="#111" class="r">Medium</text>
<text x="440.60" y="454.90" font-size="7.2" font-weight="bold" text-anchor="start" fill="#000" class="b">Lipoplatin</text>
</g>
<text transform="translate(29.9,400.0) rotate(-90) scale(1,1.06)" class="b" font-size="9.8" font-weight="bold" text-anchor="middle">Cell count</text>
<text x="103.30" y="488.00" font-size="9.7" font-weight="bold" text-anchor="middle" fill="#000" class="b">Caspase-9</text>
<text x="260.50" y="488.00" font-size="9.7" font-weight="bold" text-anchor="middle" fill="#000" class="b">Caspase-8</text>
<text x="408.10" y="488.00" font-size="9.7" font-weight="bold" text-anchor="middle" fill="#000" class="b">Caspase-3</text>
<text x="486.00" y="369.00" font-size="8.6" font-weight="bold" text-anchor="start" fill="#000" class="b">0</text>
<text x="483.60" y="413.20" font-size="8.6" font-weight="bold" text-anchor="start" fill="#000" class="b">24 h</text>
<text x="486.00" y="458.70" font-size="8.6" font-weight="bold" text-anchor="start" fill="#000" class="b">48 h</text>
<text x="122.20" y="517.80" font-size="10.0" font-weight="bold" text-anchor="middle" fill="#000" class="b">DNA FRAGMENTATION</text>
<text x="267.90" y="517.80" font-size="9.7" font-weight="bold" text-anchor="middle" fill="#000" class="b">CMXros</text>
<text x="406.90" y="517.80" font-size="9.7" font-weight="bold" text-anchor="middle" fill="#000" class="b">Cyt-c</text>
<line x1="57.20" y1="526.30" x2="189.00" y2="526.30" stroke="#333" stroke-width="0.9"/>
<line x1="201.40" y1="526.30" x2="332.20" y2="526.30" stroke="#333" stroke-width="0.9"/>
<line x1="342.80" y1="526.30" x2="474.30" y2="526.30" stroke="#333" stroke-width="0.9"/>
<text x="90.40" y="540.10" font-size="8.4" font-weight="bold" text-anchor="middle" fill="#000" class="b">OVCAR5</text>
<text x="158.50" y="540.10" font-size="8.4" font-weight="bold" text-anchor="middle" fill="#000" class="b">SKOV3</text>
<text x="235.00" y="540.10" font-size="8.4" font-weight="bold" text-anchor="middle" fill="#000" class="b">OVCAR5</text>
<text x="300.10" y="540.10" font-size="8.4" font-weight="bold" text-anchor="middle" fill="#000" class="b">SKOV3</text>
<text x="377.70" y="540.10" font-size="8.4" font-weight="bold" text-anchor="middle" fill="#000" class="b">OVCAR5</text>
<text x="443.30" y="540.10" font-size="8.4" font-weight="bold" text-anchor="middle" fill="#000" class="b">SKOV3</text>
<line x1="61.00" y1="596.10" x2="200.40" y2="596.10" stroke="#555" stroke-width="1.1"/>
<line x1="330.60" y1="596.10" x2="468.80" y2="596.10" stroke="#555" stroke-width="1.1"/>
<text x="264.00" y="600.90" font-size="9.75" font-weight="bold" text-anchor="middle" fill="#000" class="b">Fluorescence intensity</text>
<text transform="translate(48.1,564.60) rotate(-90) scale(1,1.06)" class="b" font-size="9.9" font-weight="bold" text-anchor="middle">Cell count</text>
<polyline points="68.0,582.3 68.4,581.8 68.8,580.6 69.2,578.6 69.6,575.1 70.0,570.9 70.4,566.2 70.8,562.8 71.2,561.3 71.6,562.4 72.0,565.4 72.4,569.1 72.8,572.7 73.2,575.5 73.6,576.8 74.0,577.0 74.4,576.8 74.8,576.6 75.2,576.7 75.6,577.3 76.0,578.1 76.4,579.3 76.8,580.4 77.2,581.2 77.6,581.8 78.0,582.2 78.4,582.4" fill="none" stroke="#a6a6a6" stroke-width="0.8" stroke-linejoin="round"/>
<polyline points="69.2,582.4 69.6,582.4 70.0,582.3 70.4,582.3 70.8,582.2 71.2,582.1 71.6,582.1 72.0,581.8 72.4,581.8 72.8,581.7 73.2,581.3 73.6,581.2 74.0,581.0 74.4,581.0 74.8,580.5 75.2,580.5 75.6,580.2 76.0,579.9 76.4,579.8 76.8,579.2 77.2,579.0 77.6,578.4 78.0,577.5 78.4,576.7 78.8,575.3 79.2,573.9 79.6,572.0 80.0,570.5 80.4,568.8 80.8,567.7 81.2,567.6 81.6,567.7 82.0,569.2 82.4,571.0 82.8,573.4 83.2,575.7 83.6,578.1 84.0,579.6 84.4,580.6 84.8,581.4 85.2,581.9 85.6,582.3 86.0,582.4" fill="none" stroke="#000" stroke-width="1.5" stroke-linejoin="round"/>
<line x1="54.20" y1="582.80" x2="121.60" y2="582.80" stroke="#222" stroke-width="0.7"/>
<rect x="54.20" y="545.60" width="67.40" height="37.90" fill="none" stroke="#1a1a1a" stroke-width="1.0"/>
<text x="64.10" y="556.20" font-size="7.45" font-weight="normal" text-anchor="start" fill="#484848" class="r">Medium</text>
<text x="86.10" y="571.90" font-size="7.3" font-weight="bold" text-anchor="start" fill="#000" class="b">Drug</text>
<polyline points="137.6,582.1 138.0,581.3 138.4,579.1 138.8,575.1 139.2,569.6 139.6,564.5 140.0,561.4 140.4,562.6 140.8,566.8 141.2,572.7 141.6,577.3 142.0,580.2 142.4,581.8 142.8,582.4" fill="none" stroke="#a6a6a6" stroke-width="0.8" stroke-linejoin="round"/>
<polyline points="138.8,582.4 140.0,582.4 140.4,582.2 140.8,582.2 141.2,582.0 141.6,582.0 142.0,581.7 142.4,581.7 142.8,581.5 143.2,581.2 143.6,581.2 144.0,580.9 144.4,580.5 144.8,580.4 145.2,580.2 145.6,580.1 146.0,580.5 146.4,580.3 146.8,580.1 147.2,580.1 147.6,580.5 148.0,580.3 148.4,580.5 148.8,580.5 149.2,580.7 149.6,580.8 150.0,580.5 150.4,580.8 150.8,580.5 151.2,580.8 151.6,580.5 152.0,580.6 152.4,580.3 152.8,580.2 153.2,579.7 153.6,579.7 154.0,579.1 154.4,578.9 154.8,578.8 155.2,578.3 155.6,577.8 156.0,577.2 156.4,577.0 156.8,576.7 157.2,575.9 157.6,575.5 158.0,575.1 158.4,574.9 158.8,574.6 159.2,574.1 159.6,573.8 160.0,573.5 160.4,572.9 160.8,572.7 161.2,572.4 161.6,572.3 162.0,572.3 162.4,571.8 162.8,571.8 163.2,571.8 163.6,571.8 164.0,571.9 164.4,572.0 164.8,572.4 165.2,572.9 165.6,573.6 166.0,574.2 166.4,574.7 166.8,575.1 167.2,576.0 167.6,576.7 168.0,577.3 168.4,578.1 168.8,578.2 169.2,579.3 169.6,579.5 170.0,579.8 170.4,580.5 170.8,580.7 171.2,581.1 171.6,581.4 172.0,581.7 172.4,581.9 172.8,581.9 173.2,582.1 173.6,582.2 174.0,582.4 174.4,582.4" fill="none" stroke="#000" stroke-width="1.5" stroke-linejoin="round"/>
<line x1="123.80" y1="582.80" x2="191.60" y2="582.80" stroke="#222" stroke-width="0.7"/>
<rect x="123.80" y="545.60" width="67.80" height="37.90" fill="none" stroke="#1a1a1a" stroke-width="1.0"/>
<text x="126.00" y="554.10" font-size="7.45" font-weight="normal" text-anchor="start" fill="#3c3c3c" class="r">Medium</text>
<text x="165.40" y="565.90" font-size="7.3" font-weight="bold" text-anchor="start" fill="#000" class="b">Drug</text>
<polyline points="205.8,582.4 206.2,582.2 206.6,582.1 207.0,581.9 207.4,581.6 207.8,581.2 208.2,580.7 208.6,580.3 209.0,579.5 209.4,578.7 209.8,577.7 210.2,576.7 210.6,575.5 211.0,574.3 211.4,573.0 211.8,572.0 212.2,570.8 212.6,569.7 213.0,569.2 213.4,568.6 213.8,568.2 214.2,568.4 214.6,568.8 215.0,569.4 215.4,570.1 215.8,571.4 216.2,572.4 216.6,573.5 217.0,574.9 217.4,576.1 217.8,577.1 218.2,578.2 218.6,579.1 219.0,580.0 219.4,580.5 219.8,581.1 220.2,581.4 220.6,581.8 221.0,582.0 221.4,582.2 221.8,582.3 222.2,582.4" fill="none" stroke="#a6a6a6" stroke-width="0.8" stroke-linejoin="round"/>
<polyline points="225.0,582.4 225.4,582.4 225.8,582.3 226.2,582.2 226.6,582.0 227.0,581.9 227.4,581.7 227.8,581.4 228.2,581.0 228.6,580.4 229.0,579.9 229.4,579.5 229.8,578.6 230.2,578.1 230.6,577.1 231.0,576.2 231.4,575.5 231.8,574.5 232.2,573.7 232.6,573.2 233.0,572.4 233.4,571.9 233.8,571.5 234.2,571.2 234.6,571.3 235.0,571.2 235.4,571.7 235.8,572.1 236.2,572.5 236.6,573.3 237.0,573.9 237.4,574.6 237.8,575.5 238.2,576.3 238.6,577.2 239.0,577.8 239.4,578.7 239.8,579.2 240.2,579.9 240.6,580.3 241.0,580.8 241.4,581.2 241.8,581.4 242.2,581.8 242.6,582.0 243.0,582.1 243.4,582.2 243.8,582.3 244.2,582.4" fill="none" stroke="#4a4a4a" stroke-width="0.8" stroke-linejoin="round"/>
<polyline points="220.2,582.4 220.6,582.4 221.0,582.2 221.4,582.1 221.8,581.9 222.2,581.4 222.6,581.1 223.0,580.5 223.4,579.5 223.8,578.6 224.2,577.3 224.6,575.8 225.0,574.4 225.4,572.8 225.8,571.5 226.2,569.9 226.6,568.7 227.0,567.8 227.4,567.2 227.8,567.1 228.2,567.6 228.6,568.4 229.0,569.0 229.4,570.1 229.8,571.6 230.2,572.9 230.6,574.2 231.0,575.6 231.4,577.3 231.8,578.2 232.2,579.4 232.6,580.2 233.0,580.6 233.4,581.2 233.8,581.6 234.2,581.9 234.6,582.2 235.0,582.3 235.4,582.4 235.8,582.4" fill="none" stroke="#000" stroke-width="1.5" stroke-linejoin="round"/>
<line x1="197.20" y1="582.80" x2="264.60" y2="582.80" stroke="#222" stroke-width="0.7"/>
<rect x="197.20" y="545.60" width="67.40" height="37.90" fill="none" stroke="#1a1a1a" stroke-width="1.0"/>
<text x="237.40" y="569.00" font-size="7.45" font-weight="normal" text-anchor="start" fill="#1c1c1c" class="r">Medium</text>
<text x="218.20" y="559.00" font-size="7.3" font-weight="bold" text-anchor="start" fill="#000" class="b">Drug</text>
<polyline points="275.5,582.4 275.9,582.3 276.3,582.2 276.7,582.0 277.1,581.8 277.5,581.5 277.9,581.0 278.3,580.4 278.7,579.9 279.1,579.3 279.5,578.6 279.9,577.7 280.3,576.7 280.7,576.1 281.1,575.0 281.5,574.4 281.9,573.6 282.3,573.0 282.7,572.4 283.1,571.9 283.5,571.4 283.9,571.1 284.3,571.2 284.7,571.1 285.1,571.0 285.5,571.3 285.9,571.5 286.3,571.9 286.7,572.4 287.1,572.9 287.5,573.5 287.9,574.2 288.3,574.8 288.7,575.8 289.1,576.6 289.5,577.2 289.9,578.1 290.3,578.7 290.7,579.5 291.1,580.0 291.5,580.7 291.9,581.1 292.3,581.4 292.7,581.7 293.1,582.0 293.5,582.1 293.9,582.3 294.3,582.4" fill="none" stroke="#a6a6a6" stroke-width="0.8" stroke-linejoin="round"/>
<polyline points="295.5,582.4 295.9,582.3 296.3,582.2 296.7,582.0 297.1,581.9 297.5,581.6 297.9,581.3 298.3,580.8 298.7,580.4 299.1,579.7 299.5,579.1 299.9,578.5 300.3,577.9 300.7,577.1 301.1,576.5 301.5,575.8 301.9,575.0 302.3,574.4 302.7,574.0 303.1,573.6 303.5,573.5 303.9,573.2 304.3,573.3 304.7,573.4 305.1,573.5 305.5,574.0 305.9,574.2 306.3,574.7 306.7,575.0 307.1,575.4 307.5,576.1 307.9,576.6 308.3,577.0 308.7,577.4 309.1,578.0 309.5,578.6 309.9,578.8 310.3,579.2 310.7,579.7 311.1,580.2 311.5,580.3 311.9,580.8 312.3,581.1 312.7,581.3 313.1,581.5 313.5,581.6 313.9,581.9 314.3,582.0 314.7,582.1 315.1,582.2 315.5,582.3 315.9,582.4 316.3,582.4 316.7,582.4" fill="none" stroke="#4a4a4a" stroke-width="0.8" stroke-linejoin="round"/>
<polyline points="294.3,582.4 294.7,582.3 295.1,582.1 295.5,581.9 295.9,581.6 296.3,581.2 296.7,580.9 297.1,580.0 297.5,579.1 297.9,578.4 298.3,577.0 298.7,576.1 299.1,574.5 299.5,573.4 299.9,572.0 300.3,571.1 300.7,570.1 301.1,569.5 301.5,569.1 301.9,569.2 302.3,569.4 302.7,569.7 303.1,570.6 303.5,571.5 303.9,572.7 304.3,573.9 304.7,575.0 305.1,576.3 305.5,577.7 305.9,578.7 306.3,579.5 306.7,580.4 307.1,580.9 307.5,581.1 307.9,581.5 308.3,581.9 308.7,582.1 309.1,582.2 309.5,582.3 309.9,582.4" fill="none" stroke="#000" stroke-width="1.5" stroke-linejoin="round"/>
<line x1="266.90" y1="582.80" x2="334.40" y2="582.80" stroke="#222" stroke-width="0.7"/>
<rect x="266.90" y="545.60" width="67.50" height="37.90" fill="none" stroke="#1a1a1a" stroke-width="1.0"/>
<text x="305.30" y="569.70" font-size="7.45" font-weight="normal" text-anchor="start" fill="#1c1c1c" class="r">Medium</text>
<text x="287.90" y="561.90" font-size="7.3" font-weight="bold" text-anchor="start" fill="#000" class="b">Drug</text>
<polyline points="351.3,582.4 351.7,582.1 352.1,581.9 352.5,581.5 352.9,581.0 353.3,580.3 353.7,579.4 354.1,578.1 354.5,576.2 354.9,574.6 355.3,572.2 355.7,570.0 356.1,567.5 356.5,565.4 356.9,563.1 357.3,561.6 357.7,560.4 358.1,559.8 358.5,560.1 358.9,560.7 359.3,561.7 359.7,563.4 360.1,565.2 360.5,567.1 360.9,569.4 361.3,571.5 361.7,573.5 362.1,575.2 362.5,576.8 362.9,578.1 363.3,579.3 363.7,580.1 364.1,581.0 364.5,581.4 364.9,581.7 365.3,582.1 365.7,582.3 366.1,582.4" fill="none" stroke="#a6a6a6" stroke-width="0.8" stroke-linejoin="round"/>
<polyline points="371.3,582.3 371.7,582.3 372.1,582.1 372.5,581.9 372.9,581.6 373.3,581.3 373.7,580.8 374.1,580.3 374.5,579.5 374.9,578.6 375.3,577.8 375.7,576.6 376.1,575.4 376.5,574.0 376.9,572.6 377.3,571.1 377.7,569.5 378.1,568.1 378.5,566.9 378.9,565.6 379.3,564.7 379.7,564.2 380.1,564.1 380.5,564.0 380.9,564.5 381.3,565.3 381.7,566.2 382.1,567.5 382.5,568.7 382.9,570.3 383.3,571.7 383.7,573.0 384.1,574.5 384.5,575.8 384.9,577.1 385.3,578.2 385.7,579.1 386.1,579.8 386.5,580.6 386.9,581.0 387.3,581.5 387.7,581.8 388.1,582.0 388.5,582.2 388.9,582.3 389.3,582.4" fill="none" stroke="#4a4a4a" stroke-width="0.8" stroke-linejoin="round"/>
<polyline points="356.1,582.4 356.5,582.3 356.9,582.2 357.3,582.1 357.7,581.9 358.1,581.7 358.5,581.6 358.9,581.4 359.3,581.0 359.7,580.9 360.1,580.3 360.5,580.1 360.9,579.6 361.3,578.9 361.7,578.5 362.1,577.5 362.5,576.9 362.9,576.4 363.3,575.9 363.7,575.3 364.1,574.5 364.5,573.8 364.9,573.3 365.3,572.7 365.7,572.3 366.1,571.9 366.5,572.0 366.9,571.8 367.3,571.7 367.7,571.7 368.1,572.0 368.5,572.0 368.9,572.6 369.3,573.0 369.7,573.4 370.1,573.8 370.5,574.4 370.9,575.2 371.3,575.8 371.7,576.2 372.1,576.8 372.5,577.6 372.9,578.4 373.3,578.8 373.7,579.2 374.1,579.9 374.5,580.4 374.9,580.4 375.3,580.7 375.7,581.3 376.1,581.4 376.5,581.6 376.9,581.9 377.3,582.1 377.7,582.1 378.1,582.2 378.5,582.3 378.9,582.4 379.3,582.4" fill="none" stroke="#000" stroke-width="1.5" stroke-linejoin="round"/>
<line x1="340.70" y1="582.80" x2="408.60" y2="582.80" stroke="#222" stroke-width="0.7"/>
<rect x="340.70" y="545.60" width="67.90" height="37.90" fill="none" stroke="#1a1a1a" stroke-width="1.0"/>
<text x="344.80" y="556.90" font-size="4.7" font-weight="normal" text-anchor="start" fill="#333" class="r">IgG</text>
<text x="380.40" y="559.40" font-size="7.45" font-weight="normal" text-anchor="start" fill="#1c1c1c" class="r">Medium</text>
<text x="360.00" y="563.30" font-size="7.3" font-weight="bold" text-anchor="start" fill="#000" class="b">Drug</text>
<polyline points="421.9,582.4 422.3,582.3 422.7,582.0 423.1,581.7 423.5,581.2 423.9,580.5 424.3,579.3 424.7,578.1 425.1,576.5 425.5,574.8 425.9,572.6 426.3,570.3 426.7,568.0 427.1,565.7 427.5,563.9 427.9,562.2 428.3,561.5 428.7,561.3 429.1,561.8 429.5,562.7 429.9,564.4 430.3,566.3 430.7,568.5 431.1,570.7 431.5,572.8 431.9,575.0 432.3,576.7 432.7,578.1 433.1,579.5 433.5,580.3 433.9,581.0 434.3,581.6 434.7,581.9 435.1,582.2 435.5,582.4" fill="none" stroke="#a6a6a6" stroke-width="0.8" stroke-linejoin="round"/>
<polyline points="433.5,582.4 433.9,582.4 434.3,582.2 434.7,582.1 435.1,581.9 435.5,581.7 435.9,581.3 436.3,580.7 436.7,580.1 437.1,579.6 437.5,578.6 437.9,577.5 438.3,576.4 438.7,575.1 439.1,573.6 439.5,572.4 439.9,571.1 440.3,569.7 440.7,568.7 441.1,567.9 441.5,567.3 441.9,567.0 442.3,566.9 442.7,567.1 443.1,567.8 443.5,568.6 443.9,569.5 444.3,570.6 444.7,571.7 445.1,573.1 445.5,574.4 445.9,575.6 446.3,576.6 446.7,577.9 447.1,578.6 447.5,579.6 447.9,580.3 448.3,580.8 448.7,581.1 449.1,581.6 449.5,581.9 449.9,582.1 450.3,582.2 450.7,582.3 451.1,582.4" fill="none" stroke="#4a4a4a" stroke-width="0.8" stroke-linejoin="round"/>
<polyline points="425.9,582.4 426.3,582.3 426.7,582.3 427.1,582.1 427.5,582.1 427.9,581.8 428.3,581.7 428.7,581.4 429.1,581.2 429.5,580.6 429.9,580.4 430.3,579.8 430.7,579.6 431.1,578.9 431.5,578.5 431.9,578.2 432.3,577.6 432.7,577.0 433.1,576.8 433.5,576.3 433.9,576.2 434.3,575.9 434.7,575.5 435.1,575.5 435.5,575.5 435.9,575.9 436.3,576.0 436.7,576.1 437.1,576.4 437.5,576.8 437.9,577.0 438.3,577.6 438.7,577.7 439.1,578.3 439.5,578.9 439.9,579.0 440.3,579.7 440.7,579.8 441.1,580.4 441.5,580.3 441.9,580.8 442.3,581.0 442.7,581.4 443.1,581.5 443.5,581.7 443.9,581.9 444.3,582.0 444.7,582.2 445.1,582.2 445.5,582.3 445.9,582.3 446.3,582.4" fill="none" stroke="#000" stroke-width="1.5" stroke-linejoin="round"/>
<line x1="410.90" y1="582.80" x2="478.70" y2="582.80" stroke="#222" stroke-width="0.7"/>
<rect x="410.90" y="545.60" width="67.80" height="37.90" fill="none" stroke="#1a1a1a" stroke-width="1.0"/>
<text x="417.20" y="560.20" font-size="4.7" font-weight="normal" text-anchor="start" fill="#333" class="r">IgG</text>
<text x="449.00" y="575.00" font-size="7.45" font-weight="normal" text-anchor="start" fill="#1c1c1c" class="r">Medium</text>
<text x="431.50" y="561.20" font-size="7.3" font-weight="bold" text-anchor="start" fill="#000" class="b">Drug</text>
<text x="122.50" y="628.30" font-size="9.7" font-weight="bold" text-anchor="middle" fill="#000" class="b">Bax</text>
<text x="268.00" y="628.30" font-size="9.7" font-weight="bold" text-anchor="middle" fill="#000" class="b">Bcl-2</text>
<text x="412.20" y="628.30" font-size="9.7" font-weight="bold" text-anchor="middle" fill="#000" class="b">BclxL</text>
<line x1="57.20" y1="636.20" x2="189.00" y2="636.20" stroke="#333" stroke-width="0.9"/>
<line x1="201.40" y1="636.20" x2="332.20" y2="636.20" stroke="#333" stroke-width="0.9"/>
<line x1="342.80" y1="636.20" x2="474.30" y2="636.20" stroke="#333" stroke-width="0.9"/>
<text x="90.40" y="650.60" font-size="8.4" font-weight="bold" text-anchor="middle" fill="#000" class="b">OVCAR5</text>
<text x="158.50" y="650.60" font-size="8.4" font-weight="bold" text-anchor="middle" fill="#000" class="b">SKOV3</text>
<text x="235.00" y="650.60" font-size="8.4" font-weight="bold" text-anchor="middle" fill="#000" class="b">OVCAR5</text>
<text x="300.10" y="650.60" font-size="8.4" font-weight="bold" text-anchor="middle" fill="#000" class="b">SKOV3</text>
<text x="377.70" y="650.60" font-size="8.4" font-weight="bold" text-anchor="middle" fill="#000" class="b">OVCAR5</text>
<text x="443.30" y="650.60" font-size="8.4" font-weight="bold" text-anchor="middle" fill="#000" class="b">SKOV3</text>
<line x1="61.00" y1="706.60" x2="200.40" y2="706.60" stroke="#555" stroke-width="1.1"/>
<line x1="330.60" y1="706.60" x2="468.80" y2="706.60" stroke="#555" stroke-width="1.1"/>
<text x="264.00" y="711.40" font-size="9.75" font-weight="bold" text-anchor="middle" fill="#000" class="b">Fluorescence intensity</text>
<text transform="translate(48.1,675.10) rotate(-90) scale(1,1.06)" class="b" font-size="9.9" font-weight="bold" text-anchor="middle">Cell count</text>
<polyline points="63.2,693.3 63.6,693.1 64.0,692.9 64.4,692.5 64.8,692.0 65.2,691.2 65.6,690.1 66.0,689.0 66.4,687.5 66.8,686.1 67.2,684.3 67.6,682.4 68.0,680.4 68.4,678.9 68.8,677.3 69.2,676.5 69.6,675.8 70.0,675.9 70.4,676.4 70.8,677.3 71.2,678.8 71.6,680.4 72.0,682.5 72.4,684.1 72.8,685.9 73.2,687.7 73.6,689.0 74.0,690.3 74.4,691.3 74.8,692.0 75.2,692.4 75.6,692.8 76.0,693.1 76.4,693.3 76.8,693.4" fill="none" stroke="#333" stroke-width="0.8" stroke-linejoin="round"/>
<polyline points="66.0,693.4 66.4,693.4 66.8,693.4 67.2,693.3 67.6,693.2 68.0,693.1 68.4,693.0 68.8,693.0 69.2,692.8 69.6,692.6 70.0,692.5 70.4,692.3 70.8,692.1 71.2,691.9 71.6,691.6 72.0,691.4 72.4,691.3 72.8,690.9 73.2,690.6 73.6,690.4 74.0,690.0 74.4,689.7 74.8,689.3 75.2,689.1 75.6,688.8 76.0,688.4 76.4,688.2 76.8,687.9 77.2,687.6 77.6,687.6 78.0,687.3 78.4,687.2 78.8,687.0 79.2,687.0 79.6,686.9 80.0,687.0 80.4,687.1 80.8,687.0 81.2,687.2 81.6,687.4 82.0,687.5 82.4,687.7 82.8,687.7 83.2,687.9 83.6,688.2 84.0,688.3 84.4,688.7 84.8,688.9 85.2,689.1 85.6,689.4 86.0,689.6 86.4,689.8 86.8,690.0 87.2,690.4 87.6,690.6 88.0,690.7 88.4,691.0 88.8,691.2 89.2,691.4 89.6,691.6 90.0,691.9 90.4,692.1 90.8,692.2 91.2,692.4 91.6,692.4 92.0,692.6 92.4,692.7 92.8,692.7 93.2,692.8 93.6,693.0 94.0,693.1 94.4,693.2 94.8,693.2 95.2,693.2 95.6,693.3 96.0,693.3 96.4,693.4 96.8,693.4 97.2,693.4 97.6,693.4" fill="none" stroke="#4a4a4a" stroke-width="0.8" stroke-linejoin="round"/>
<polyline points="65.6,693.4 67.6,693.4 68.0,693.3 68.4,693.1 68.8,693.0 69.2,692.8 69.6,692.8 70.0,692.3 70.4,692.2 70.8,691.5 71.2,692.0 71.6,691.3 72.0,691.0 72.4,690.9 72.8,689.8 73.2,690.3 73.6,689.0 74.0,689.3 74.4,689.0 74.8,688.2 75.2,687.9 75.6,688.0 76.0,687.9 76.4,686.4 76.8,687.0 77.2,687.2 77.6,686.2 78.0,686.2 78.4,686.4 78.8,686.2 79.2,685.4 79.6,686.1 80.0,685.9 80.4,685.1 80.8,686.0 81.2,685.9 81.6,686.3 82.0,685.7 82.4,685.8 82.8,686.3 83.2,686.5 83.6,686.9 84.0,686.3 84.4,687.0 84.8,686.7 85.2,687.6 85.6,687.4 86.0,688.7 86.4,688.7 86.8,687.9 87.2,688.6 87.6,689.0 88.0,689.5 88.4,689.9 88.8,690.6 89.2,690.9 89.6,690.5 90.0,690.7 90.4,691.6 90.8,691.3 91.2,692.1 91.6,691.8 92.0,692.4 92.4,692.3 92.8,692.6 93.2,692.6 93.6,693.0 94.0,692.9 94.4,693.0 94.8,693.3 95.2,693.3 95.6,693.2 96.0,693.3 96.4,693.3 96.8,693.3 97.2,693.4 98.4,693.4" fill="none" stroke="#000" stroke-width="1.5" stroke-linejoin="round"/>
<line x1="54.20" y1="693.80" x2="121.60" y2="693.80" stroke="#222" stroke-width="0.7"/>
<rect x="54.20" y="656.40" width="67.40" height="38.00" fill="none" stroke="#1a1a1a" stroke-width="1.0"/>
<text x="59.40" y="668.40" font-size="4.7" font-weight="normal" text-anchor="start" fill="#333" class="r">IgG</text>
<text x="73.00" y="678.30" font-size="7.45" font-weight="normal" text-anchor="start" fill="#1c1c1c" class="r">Medium</text>
<text x="91.10" y="687.10" font-size="7.3" font-weight="bold" text-anchor="start" fill="#000" class="b">Drug</text>
<polyline points="134.4,693.3 134.8,693.1 135.2,692.8 135.6,692.3 136.0,691.7 136.4,690.6 136.8,689.5 137.2,687.9 137.6,686.0 138.0,684.1 138.4,681.8 138.8,679.9 139.2,678.0 139.6,676.9 140.0,676.2 140.4,676.0 140.8,676.8 141.2,678.1 141.6,679.8 142.0,681.9 142.4,684.0 142.8,686.2 143.2,687.8 143.6,689.5 144.0,690.6 144.4,691.6 144.8,692.3 145.2,692.8 145.6,693.2 146.0,693.3" fill="none" stroke="#333" stroke-width="0.8" stroke-linejoin="round"/>
<polyline points="131.6,693.4 132.4,693.4 132.8,693.4 133.2,693.4 133.6,693.3 134.0,693.1 134.4,693.0 134.8,693.0 135.2,692.6 135.6,692.5 136.0,691.7 136.4,691.9 136.8,691.5 137.2,691.5 137.6,690.0 138.0,690.5 138.4,689.7 138.8,689.0 139.2,689.3 139.6,688.4 140.0,688.7 140.4,688.7 140.8,688.6 141.2,687.8 141.6,687.2 142.0,688.0 142.4,687.7 142.8,687.2 143.2,687.9 143.6,688.1 144.0,687.6 144.4,687.8 144.8,687.1 145.2,687.2 145.6,688.2 146.0,687.7 146.4,688.0 146.8,688.5 147.2,687.9 147.6,687.3 148.0,688.1 148.4,687.7 148.8,687.5 149.2,688.3 149.6,687.1 150.0,688.2 150.4,687.9 150.8,687.2 151.2,688.2 151.6,687.7 152.0,688.0 152.4,687.6 152.8,688.3 153.2,688.1 153.6,688.1 154.0,688.5 154.4,688.6 154.8,688.7 155.2,688.5 155.6,689.2 156.0,688.5 156.4,689.4 156.8,689.9 157.2,690.2 157.6,689.7 158.0,691.1 158.4,690.4 158.8,691.6 159.2,690.8 159.6,691.7 160.0,691.7 160.4,691.7 160.8,692.6 161.2,692.8 161.6,692.5 162.0,692.7 162.4,692.8 162.8,693.1 163.2,693.1 163.6,693.3 164.0,693.3 164.4,693.4 164.8,693.4" fill="none" stroke="#000" stroke-width="1.5" stroke-linejoin="round"/>
<line x1="123.80" y1="693.80" x2="191.60" y2="693.80" stroke="#222" stroke-width="0.7"/>
<rect x="123.80" y="656.40" width="67.80" height="38.00" fill="none" stroke="#1a1a1a" stroke-width="1.0"/>
<text x="127.00" y="668.00" font-size="4.7" font-weight="normal" text-anchor="start" fill="#333" class="r">IgG</text>
<text x="143.00" y="673.60" font-size="7.45" font-weight="normal" text-anchor="start" fill="#1c1c1c" class="r">Medium</text>
<text x="161.50" y="687.90" font-size="7.3" font-weight="bold" text-anchor="start" fill="#000" class="b">Drug</text>
<polyline points="207.0,693.4 207.4,693.3 207.8,693.1 208.2,692.7 208.6,692.3 209.0,691.6 209.4,690.8 209.8,689.8 210.2,688.2 210.6,686.7 211.0,685.0 211.4,682.8 211.8,681.0 212.2,679.0 212.6,677.3 213.0,675.8 213.4,674.7 213.8,674.3 214.2,674.4 214.6,675.2 215.0,676.3 215.4,677.6 215.8,679.5 216.2,681.3 216.6,683.2 217.0,685.3 217.4,686.8 217.8,688.6 218.2,689.7 218.6,690.7 219.0,691.5 219.4,692.2 219.8,692.6 220.2,693.0 220.6,693.2 221.0,693.4" fill="none" stroke="#a6a6a6" stroke-width="0.8" stroke-linejoin="round"/>
<polyline points="213.4,693.4 213.8,693.3 214.2,693.2 214.6,693.0 215.0,692.6 215.4,692.1 215.8,691.5 216.2,690.9 216.6,689.9 217.0,688.6 217.4,687.1 217.8,685.8 218.2,684.0 218.6,682.4 219.0,680.8 219.4,679.3 219.8,678.4 220.2,677.6 220.6,677.3 221.0,677.4 221.4,677.8 221.8,678.5 222.2,679.7 222.6,681.2 223.0,682.4 223.4,684.0 223.8,685.7 224.2,686.9 224.6,688.2 225.0,689.5 225.4,690.3 225.8,691.1 226.2,691.9 226.6,692.4 227.0,692.7 227.4,693.0 227.8,693.2 228.2,693.3 228.6,693.4" fill="none" stroke="#4a4a4a" stroke-width="0.8" stroke-linejoin="round"/>
<polyline points="200.2,693.4 200.6,693.4 201.0,693.3 201.4,693.3 201.8,693.2 202.2,693.2 202.6,693.0 203.0,692.9 203.4,692.8 203.8,692.7 204.2,692.4 204.6,692.5 205.0,692.1 205.4,691.9 205.8,691.9 206.2,691.5 206.6,691.6 207.0,691.2 207.4,691.1 207.8,691.0 208.2,690.9 208.6,690.4 209.0,690.3 209.4,690.4 209.8,689.7 210.2,689.8 210.6,689.4 211.0,688.9 211.4,688.3 211.8,687.5 212.2,686.8 212.6,686.1 213.0,685.2 213.4,684.3 213.8,683.2 214.2,681.8 214.6,680.6 215.0,679.6 215.4,678.5 215.8,678.1 216.2,677.6 216.6,677.4 217.0,677.7 217.4,677.7 217.8,678.6 218.2,679.5 218.6,680.7 219.0,682.1 219.4,683.4 219.8,684.7 220.2,686.1 220.6,687.1 221.0,688.5 221.4,689.7 221.8,690.6 222.2,691.3 222.6,691.8 223.0,692.2 223.4,692.5 223.8,693.0 224.2,693.1 224.6,693.3 225.0,693.4" fill="none" stroke="#000" stroke-width="1.5" stroke-linejoin="round"/>
<line x1="197.20" y1="693.80" x2="264.60" y2="693.80" stroke="#222" stroke-width="0.7"/>
<rect x="197.20" y="656.40" width="67.40" height="38.00" fill="none" stroke="#1a1a1a" stroke-width="1.0"/>
<text x="200.40" y="668.40" font-size="4.7" font-weight="normal" text-anchor="start" fill="#333" class="r">IgG</text>
<text x="227.40" y="685.40" font-size="7.45" font-weight="normal" text-anchor="start" fill="#1c1c1c" class="r">Medium</text>
<text x="216.50" y="669.40" font-size="7.3" font-weight="bold" text-anchor="start" fill="#000" class="b">Drug</text>
<polyline points="277.9,693.3 278.3,693.2 278.7,693.0 279.1,692.6 279.5,692.1 279.9,691.5 280.3,690.6 280.7,689.4 281.1,688.0 281.5,686.4 281.9,684.7 282.3,682.8 282.7,680.9 283.1,679.1 283.5,677.8 283.9,676.5 284.3,675.9 284.7,675.8 285.1,676.2 285.5,677.1 285.9,678.3 286.3,679.6 286.7,681.4 287.1,683.4 287.5,684.9 287.9,686.6 288.3,688.3 288.7,689.4 289.1,690.6 289.5,691.4 289.9,692.0 290.3,692.6 290.7,692.9 291.1,693.1 291.5,693.3 291.9,693.4" fill="none" stroke="#a6a6a6" stroke-width="0.8" stroke-linejoin="round"/>
<polyline points="285.1,693.4 285.5,693.3 285.9,693.2 286.3,693.0 286.7,692.7 287.1,692.5 287.5,692.0 287.9,691.4 288.3,690.7 288.7,689.8 289.1,688.8 289.5,687.6 289.9,686.4 290.3,685.0 290.7,683.5 291.1,682.4 291.5,681.2 291.9,679.9 292.3,679.2 292.7,678.6 293.1,678.3 293.5,678.4 293.9,678.8 294.3,679.4 294.7,680.0 295.1,680.9 295.5,682.3 295.9,683.4 296.3,684.7 296.7,686.0 297.1,686.9 297.5,688.0 297.9,689.2 298.3,690.1 298.7,690.7 299.1,691.3 299.5,691.9 299.9,692.4 300.3,692.7 300.7,692.9 301.1,693.1 301.5,693.2 301.9,693.4 302.3,693.4" fill="none" stroke="#4a4a4a" stroke-width="0.8" stroke-linejoin="round"/>
<polyline points="279.9,693.4 280.3,693.3 280.7,693.2 281.1,693.0 281.5,692.8 281.9,692.2 282.3,691.7 282.7,691.2 283.1,690.5 283.5,689.0 283.9,688.2 284.3,686.5 284.7,685.4 285.1,683.6 285.5,682.3 285.9,680.6 286.3,679.7 286.7,678.9 287.1,678.3 287.5,677.7 287.9,677.8 288.3,678.5 288.7,679.2 289.1,680.4 289.5,681.5 289.9,682.9 290.3,683.8 290.7,685.7 291.1,686.7 291.5,688.0 291.9,689.2 292.3,690.0 292.7,690.6 293.1,691.6 293.5,692.1 293.9,692.4 294.3,692.7 294.7,693.0 295.1,693.3 295.5,693.3" fill="none" stroke="#000" stroke-width="1.5" stroke-linejoin="round"/>
<line x1="266.90" y1="693.80" x2="334.40" y2="693.80" stroke="#222" stroke-width="0.7"/>
<rect x="266.90" y="656.40" width="67.50" height="38.00" fill="none" stroke="#1a1a1a" stroke-width="1.0"/>
<text x="269.70" y="669.40" font-size="4.7" font-weight="normal" text-anchor="start" fill="#333" class="r">IgG</text>
<text x="300.30" y="685.40" font-size="7.45" font-weight="normal" text-anchor="start" fill="#1c1c1c" class="r">Medium</text>
<text x="287.50" y="669.40" font-size="7.3" font-weight="bold" text-anchor="start" fill="#000" class="b">Drug</text>
<polyline points="353.7,693.4 354.1,693.2 354.5,692.9 354.9,692.3 355.3,691.4 355.7,690.2 356.1,688.4 356.5,686.6 356.9,683.9 357.3,681.5 357.7,679.2 358.1,677.0 358.5,675.6 358.9,674.4 359.3,673.6 359.7,673.5 360.1,674.3 360.5,675.4 360.9,677.4 361.3,679.7 361.7,682.0 362.1,684.3 362.5,686.2 362.9,688.2 363.3,689.8 363.7,690.9 364.1,691.9 364.5,692.4 364.9,692.9 365.3,693.2 365.7,693.4" fill="none" stroke="#a6a6a6" stroke-width="0.8" stroke-linejoin="round"/>
<polyline points="363.3,693.4 363.7,693.3 364.1,693.1 364.5,692.8 364.9,692.4 365.3,691.7 365.7,691.2 366.1,690.1 366.5,689.0 366.9,687.7 367.3,686.3 367.7,684.5 368.1,682.7 368.5,681.1 368.9,679.5 369.3,678.1 369.7,677.2 370.1,676.7 370.5,676.6 370.9,676.8 371.3,677.6 371.7,678.5 372.1,679.9 372.5,681.6 372.9,683.3 373.3,685.0 373.7,686.4 374.1,687.8 374.5,689.2 374.9,690.2 375.3,690.9 375.7,691.8 376.1,692.3 376.5,692.7 376.9,693.0 377.3,693.2 377.7,693.4" fill="none" stroke="#4a4a4a" stroke-width="0.8" stroke-linejoin="round"/>
<polyline points="357.7,693.4 358.1,693.3 358.5,693.2 358.9,693.1 359.3,692.7 359.7,692.4 360.1,692.1 360.5,691.9 360.9,691.1 361.3,690.5 361.7,689.9 362.1,689.3 362.5,688.2 362.9,687.3 363.3,686.3 363.7,685.3 364.1,683.8 364.5,682.7 364.9,681.4 365.3,680.7 365.7,679.7 366.1,678.7 366.5,678.3 366.9,677.6 367.3,677.2 367.7,677.2 368.1,677.2 368.5,677.8 368.9,678.4 369.3,679.3 369.7,680.2 370.1,681.6 370.5,683.0 370.9,683.7 371.3,685.0 371.7,686.6 372.1,687.7 372.5,688.7 372.9,689.4 373.3,690.4 373.7,691.2 374.1,691.5 374.5,692.2 374.9,692.5 375.3,692.7 375.7,693.0 376.1,693.2 376.5,693.3 376.9,693.4" fill="none" stroke="#000" stroke-width="1.5" stroke-linejoin="round"/>
<line x1="340.70" y1="693.80" x2="408.60" y2="693.80" stroke="#222" stroke-width="0.7"/>
<rect x="340.70" y="656.40" width="67.90" height="38.00" fill="none" stroke="#1a1a1a" stroke-width="1.0"/>
<text x="343.70" y="668.00" font-size="4.7" font-weight="normal" text-anchor="start" fill="#333" class="r">IgG</text>
<text x="376.10" y="684.00" font-size="7.45" font-weight="normal" text-anchor="start" fill="#1c1c1c" class="r">Medium</text>
<text x="360.80" y="670.00" font-size="7.3" font-weight="bold" text-anchor="start" fill="#000" class="b">Drug</text>
<polyline points="423.1,693.4 423.5,693.2 423.9,692.7 424.3,692.0 424.7,690.8 425.1,689.3 425.5,687.3 425.9,684.9 426.3,682.1 426.7,679.5 427.1,677.2 427.5,675.5 427.9,674.2 428.3,673.6 428.7,673.4 429.1,673.8 429.5,674.8 429.9,676.2 430.3,678.1 430.7,680.4 431.1,682.8 431.5,685.2 431.9,687.1 432.3,688.8 432.7,690.5 433.1,691.6 433.5,692.4 433.9,692.9 434.3,693.2 434.7,693.4" fill="none" stroke="#a6a6a6" stroke-width="0.8" stroke-linejoin="round"/>
<polyline points="433.5,693.4 433.9,693.3 434.3,693.0 434.7,692.7 435.1,692.3 435.5,691.7 435.9,690.8 436.3,689.5 436.7,688.2 437.1,686.6 437.5,684.6 437.9,682.7 438.3,680.8 438.7,678.7 439.1,676.8 439.5,675.5 439.9,674.5 440.3,674.0 440.7,674.0 441.1,674.8 441.5,676.0 441.9,677.5 442.3,679.3 442.7,681.2 443.1,683.1 443.5,685.2 443.9,686.8 444.3,688.4 444.7,689.6 445.1,690.6 445.5,691.6 445.9,692.2 446.3,692.7 446.7,693.0 447.1,693.2 447.5,693.4" fill="none" stroke="#4a4a4a" stroke-width="0.8" stroke-linejoin="round"/>
<polyline points="425.5,693.4 425.9,693.3 426.3,693.2 426.7,693.2 427.1,693.1 427.5,692.8 427.9,692.8 428.3,692.5 428.7,692.5 429.1,692.3 429.5,692.0 429.9,691.6 430.3,691.3 430.7,691.4 431.1,690.7 431.5,690.4 431.9,690.0 432.3,689.4 432.7,688.9 433.1,688.5 433.5,687.5 433.9,687.0 434.3,686.0 434.7,684.7 435.1,683.9 435.5,682.9 435.9,681.8 436.3,681.0 436.7,680.3 437.1,679.5 437.5,679.4 437.9,679.0 438.3,679.1 438.7,679.0 439.1,679.6 439.5,680.6 439.9,682.0 440.3,682.9 440.7,684.5 441.1,685.6 441.5,687.0 441.9,688.3 442.3,689.3 442.7,690.5 443.1,691.0 443.5,691.8 443.9,692.2 444.3,692.6 444.7,693.0 445.1,693.2 445.5,693.3" fill="none" stroke="#000" stroke-width="1.5" stroke-linejoin="round"/>
<line x1="410.90" y1="693.80" x2="478.70" y2="693.80" stroke="#222" stroke-width="0.7"/>
<rect x="410.90" y="656.40" width="67.80" height="38.00" fill="none" stroke="#1a1a1a" stroke-width="1.0"/>
<text x="414.80" y="668.00" font-size="4.7" font-weight="normal" text-anchor="start" fill="#333" class="r">IgG</text>
<text x="446.40" y="684.60" font-size="7.45" font-weight="normal" text-anchor="start" fill="#1c1c1c" class="r">Medium</text>
<text x="431.90" y="669.00" font-size="7.3" font-weight="bold" text-anchor="start" fill="#000" class="b">Drug</text>
</g>
<g fill="#505050"><rect x="0" y="0" width="520" height="1.3"/><rect x="0" y="0" width="1.3" height="731"/><rect x="518.45" y="0" width="1.55" height="731"/><rect x="0" y="729.5" width="520" height="1.5"/></g>
</svg>
</body></html>
